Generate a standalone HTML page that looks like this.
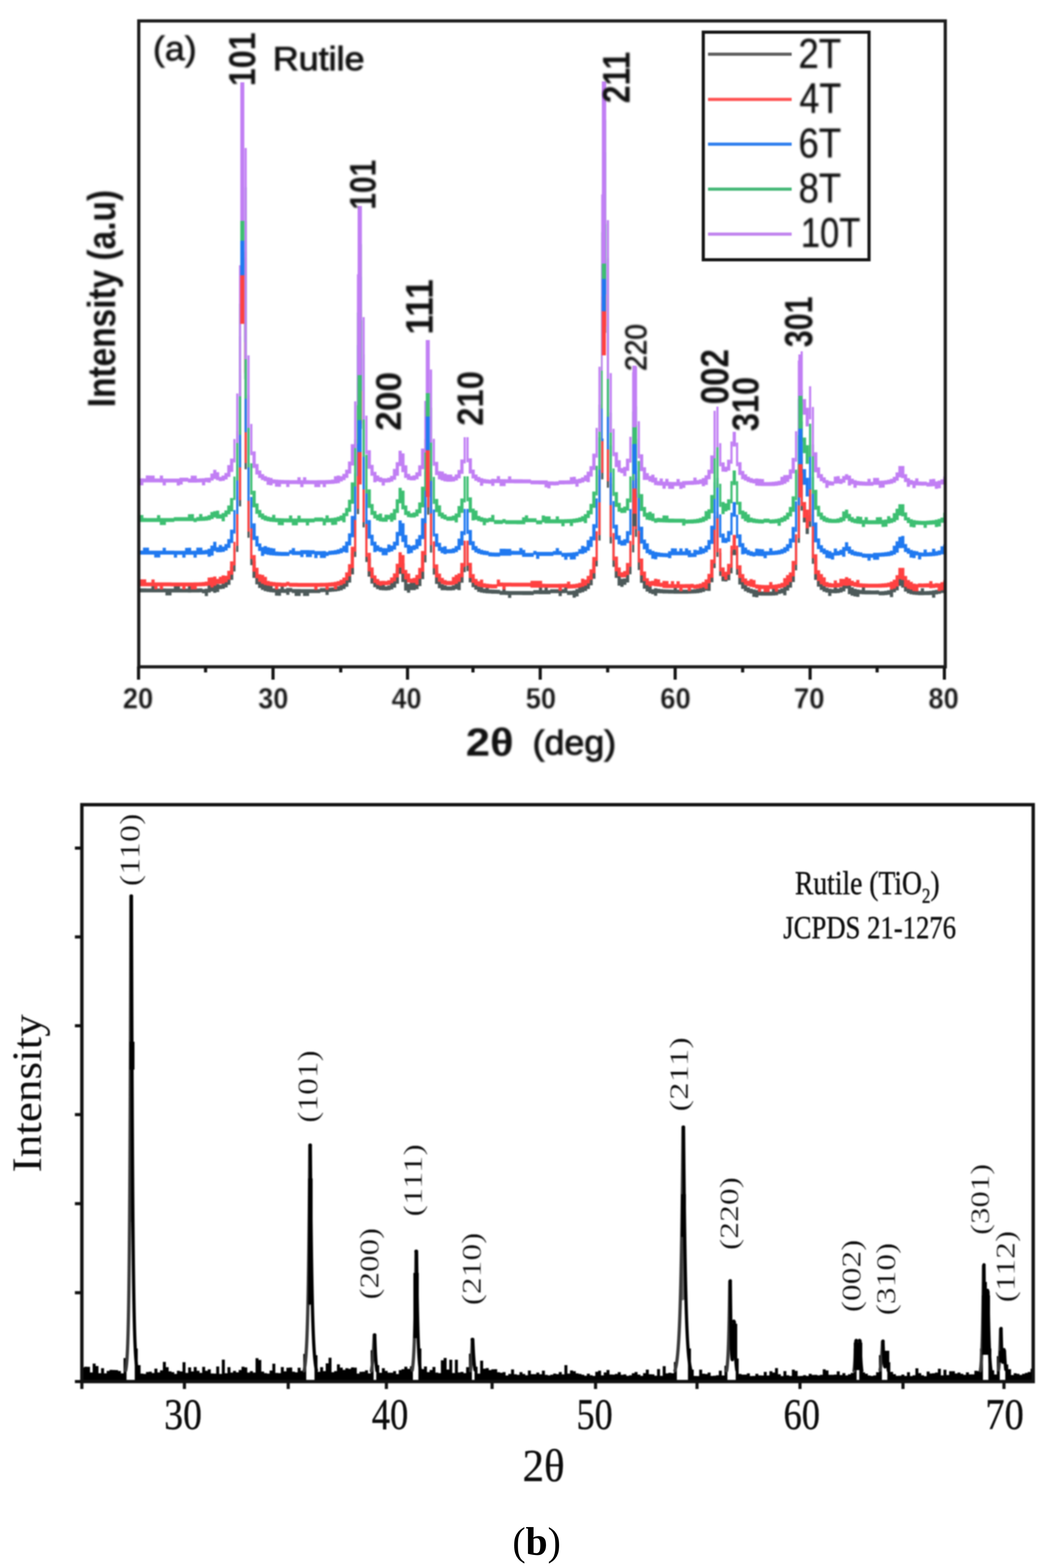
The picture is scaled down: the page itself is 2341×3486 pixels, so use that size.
<!DOCTYPE html>
<html lang="en"><head><meta charset="utf-8"><title>XRD patterns of rutile TiO2</title>
<style>html,body{margin:0;padding:0;background:#fff;width:2341px;height:3486px}svg{display:block}</style></head><body>
<svg width="2341" height="3486" viewBox="0 0 2341 3486" role="img" aria-label="XRD patterns of rutile TiO2">
<defs>
<filter id="ba" x="-2%" y="-2%" width="104%" height="104%" color-interpolation-filters="sRGB"><feGaussianBlur stdDeviation="1.4"/></filter>
<filter id="bb" x="-2%" y="-2%" width="104%" height="104%" color-interpolation-filters="sRGB"><feGaussianBlur stdDeviation="1.4"/></filter>
<filter id="bt" x="-5%" y="-5%" width="110%" height="110%" color-interpolation-filters="sRGB"><feGaussianBlur stdDeviation="2"/></filter>
</defs>
<rect width="2341" height="3486" fill="#fff"/>
<g id="chart-a">
<g filter="url(#ba)">
<path d="M305.4 1308.1h7.2v8.8h-7.2zM311.6 1308.1h7.2v8.8h-7.2zM317.9 1308.1h7.2v8.8h-7.2zM324.1 1308.2h7.2v8.8h-7.2zM330.4 1308.2h7.2v8.8h-7.2zM336.6 1301.7h7.2v15.4h-7.2zM342.8 1308.3h7.2v8.8h-7.2zM349.1 1308.3h7.2v8.8h-7.2zM355.3 1308.3h7.2v8.8h-7.2zM361.6 1308.3h7.2v8.8h-7.2zM367.8 1308.4h7.2v15.4h-7.2zM374.1 1308.4h7.2v15.4h-7.2zM380.3 1308.4h7.2v8.8h-7.2zM386.5 1301.9h7.2v15.4h-7.2zM392.8 1301.9h7.2v15.4h-7.2zM399 1308.5h7.2v8.8h-7.2zM405.3 1308.5h7.2v8.8h-7.2zM411.5 1308.5h7.2v8.8h-7.2zM417.8 1302h7.2v15.4h-7.2zM424 1301.9h7.2v15.4h-7.2zM430.2 1308.4h7.2v8.9h-7.2zM436.5 1308.3h7.2v8.9h-7.2zM442.7 1308.1h7.2v9h-7.2zM449 1309.8h7.2v9.3h-7.2zM455.2 1308.8h7.2v16.4h-7.2zM461.5 1299.8h7.2v17.8h-7.2zM467.7 1292.7h7.2v22.4h-7.2zM473.9 1297.5h7.2v20.6h-7.2zM480.2 1298.5h7.2v17.8h-7.2zM486.4 1300.2h7.2v9.6h-7.2zM492.7 1297.3h7.2v11.7h-7.2zM498.9 1291.5h7.2v14.6h-7.2zM505.2 1280.5h7.2v19.7h-7.2zM511.4 1259.5h7.2v29.8h-7.2zM518.8 1218.3h4.8v52.2h-4.8zM525.1 1116.9h4.8v110.2h-4.8zM531.3 834.1h4.8v291.6h-4.8zM537.6 429.1h4.8v413.8h-4.8zM543.8 573.3h4.8v469.9h-4.8zM550.1 1034.4h4.8v161.2h-4.8zM556.3 1186.8h4.8v69.7h-4.8zM561.3 1247.7h7.2v37.1h-7.2zM567.6 1276h7.2v23.3h-7.2zM573.8 1290.5h7.2v16.7h-7.2zM580.1 1291.8h7.2v19.8h-7.2zM586.3 1296.2h7.2v18h-7.2zM592.6 1298.8h7.2v16.9h-7.2zM598.8 1300.4h7.2v16.3h-7.2zM605 1307.9h7.2v9.4h-7.2zM611.3 1308.5h7.2v15.7h-7.2zM617.5 1308.9h7.2v15.6h-7.2zM623.8 1302.6h7.2v15.5h-7.2zM630 1309.3h7.2v8.9h-7.2zM636.3 1307.2h7.2v15.4h-7.2zM642.5 1307.3h7.2v8.9h-7.2zM648.7 1309.6h7.2v8.8h-7.2zM655 1309.6h7.2v15.4h-7.2zM661.2 1309.6h7.2v15.4h-7.2zM667.5 1309.7h7.2v8.8h-7.2zM673.7 1309.7h7.2v15.4h-7.2zM680 1309.7h7.2v15.4h-7.2zM686.2 1309.8h7.2v8.8h-7.2zM692.4 1309.8h7.2v8.8h-7.2zM698.7 1309.8h7.2v8.8h-7.2zM704.9 1309.7h7.2v8.8h-7.2zM711.2 1307.5h7.2v8.9h-7.2zM717.4 1307.4h7.2v8.9h-7.2zM723.6 1307.2h7.2v15.6h-7.2zM729.9 1306.8h7.2v9.1h-7.2zM736.1 1306.2h7.2v9.4h-7.2zM742.4 1305.3h7.2v9.8h-7.2zM748.6 1303.6h7.2v10.5h-7.2zM754.9 1300.7h7.2v11.7h-7.2zM761.1 1295.6h7.2v13.9h-7.2zM767.3 1286.3h7.2v18.1h-7.2zM773.6 1268.2h7.2v27h-7.2zM779.8 1229.5h7.2v47.5h-7.2zM787.3 1134.3h4.8v104h-4.8zM793.5 851.7h4.8v291.3h-4.8zM799.8 700h4.8v253.6h-4.8zM806 944.8h4.8v227.8h-4.8zM812.2 1163.8h4.8v85.8h-4.8zM817.3 1240.8h7.2v41.2h-7.2zM823.5 1273.2h7.2v24.3h-7.2zM829.8 1288.8h7.2v16.8h-7.2zM836 1290.2h7.2v19.6h-7.2zM842.3 1294.4h7.2v17.5h-7.2zM848.5 1296.5h7.2v16.1h-7.2zM854.7 1303.5h7.2v9.2h-7.2zM861 1301.7h7.2v10.5h-7.2zM867.2 1291.2h7.2v19.4h-7.2zM873.5 1288.8h7.2v17.7h-7.2zM879.7 1267.3h7.2v30.4h-7.2zM886 1241.7h7.2v34.4h-7.2zM892.2 1252.3h7.2v41.7h-7.2zM898.4 1285.2h7.2v27.9h-7.2zM904.7 1297.7h7.2v20.1h-7.2zM910.9 1295.9h7.2v16.2h-7.2zM917.2 1294.3h7.2v17.7h-7.2zM923.4 1294.1h7.2v15.6h-7.2zM929.7 1278.7h7.2v24.2h-7.2zM935.9 1241.3h7.2v46.1h-7.2zM943.3 1135.4h4.8v114.8h-4.8zM949.6 1000.7h4.8v143.5h-4.8zM955.8 1065.7h4.8v162.7h-4.8zM962.1 1217.4h4.8v60.1h-4.8zM967.1 1268.8h7.2v29.4h-7.2zM973.4 1289.4h7.2v18.3h-7.2zM979.6 1298.8h7.2v13.4h-7.2zM985.8 1301.3h7.2v11h-7.2zM992.1 1303.4h7.2v9.4h-7.2zM998.3 1303.4h7.2v9.4h-7.2zM1004.6 1301.3h7.2v11h-7.2zM1010.8 1296.6h7.2v13.5h-7.2zM1017.1 1286.6h7.2v25.4h-7.2zM1023.3 1263.3h7.2v32.1h-7.2zM1030.7 1214h4.8v58.1h-4.8zM1037 1214h4.8v55.7h-4.8zM1042 1260.9h7.2v33.8h-7.2zM1048.3 1285.9h7.2v19.7h-7.2zM1054.5 1290.2h7.2v20.7h-7.2zM1060.8 1304.3h7.2v11.7h-7.2zM1067 1300.6h7.2v17h-7.2zM1073.2 1308.8h7.2v9.8h-7.2zM1079.5 1303.2h7.2v16h-7.2zM1085.7 1310.4h7.2v9.2h-7.2zM1092 1310.8h7.2v9.1h-7.2zM1098.2 1311.1h7.2v9h-7.2zM1104.5 1311.3h7.2v8.9h-7.2zM1110.7 1313.6h7.2v8.9h-7.2zM1116.9 1307.2h7.2v15.4h-7.2zM1123.2 1313.8h7.2v8.9h-7.2zM1129.4 1313.9h7.2v15.4h-7.2zM1135.7 1313.9h7.2v8.8h-7.2zM1141.9 1314h7.2v8.8h-7.2zM1148.2 1314h7.2v8.8h-7.2zM1154.4 1314h7.2v8.8h-7.2zM1160.6 1314.1h7.2v8.8h-7.2zM1166.9 1314.1h7.2v8.8h-7.2zM1173.1 1314.1h7.2v8.8h-7.2zM1179.4 1314.2h7.2v8.8h-7.2zM1185.6 1312h7.2v8.8h-7.2zM1191.8 1312h7.2v8.8h-7.2zM1198.1 1305.5h7.2v15.4h-7.2zM1204.3 1312.1h7.2v8.8h-7.2zM1210.6 1305.6h7.2v15.4h-7.2zM1216.8 1312.1h7.2v8.8h-7.2zM1223.1 1310h7.2v8.8h-7.2zM1229.3 1310h7.2v8.8h-7.2zM1235.5 1310h7.2v8.8h-7.2zM1241.8 1309.9h7.2v15.4h-7.2zM1248 1309.8h7.2v8.9h-7.2zM1254.3 1303.1h7.2v15.5h-7.2zM1260.5 1313.8h7.2v9h-7.2zM1266.8 1313.4h7.2v9.2h-7.2zM1273 1312.8h7.2v16h-7.2zM1279.2 1309.6h7.2v16.4h-7.2zM1285.5 1301.4h7.2v17h-7.2zM1291.7 1298.6h7.2v18.1h-7.2zM1298 1300.5h7.2v13.5h-7.2zM1304.2 1292.5h7.2v16.9h-7.2zM1310.5 1278h7.2v23.3h-7.2zM1316.7 1250.4h7.2v36.4h-7.2zM1324.1 1193.1h4.8v66.1h-4.8zM1330.4 1057h4.8v144.8h-4.8zM1336.6 673.9h4.8v391.9h-4.8zM1342.9 424.2h4.8v315.7h-4.8zM1349.1 731.1h4.8v353.1h-4.8zM1355.4 1075.5h4.8v132.7h-4.8zM1361.6 1199.3h4.8v61h-4.8zM1366.6 1251.6h7.2v33.1h-7.2zM1372.9 1275.8h7.2v26.2h-7.2zM1379.1 1286.7h7.2v18h-7.2zM1385.4 1286.1h7.2v14.1h-7.2zM1391.6 1268.1h7.2v26.9h-7.2zM1399.1 1219.2h4.8v57.6h-4.8zM1405.3 1075.2h4.8v152.8h-4.8zM1411.5 1063.5h4.8v130h-4.8zM1417.8 1184.7h4.8v82.5h-4.8zM1422.8 1258.4h7.2v37.4h-7.2zM1429.1 1287h7.2v21.8h-7.2zM1435.3 1293.4h7.2v21.9h-7.2zM1441.6 1300h7.2v19h-7.2zM1447.8 1310.1h7.2v10.9h-7.2zM1454 1307.8h7.2v16.6h-7.2zM1460.3 1309.1h7.2v9.6h-7.2zM1466.5 1309.8h7.2v9.3h-7.2zM1472.8 1310.3h7.2v9.1h-7.2zM1479 1310.6h7.2v9h-7.2zM1485.3 1310.8h7.2v8.9h-7.2zM1491.5 1310.9h7.2v8.9h-7.2zM1497.7 1304.5h7.2v15.4h-7.2zM1504 1311.1h7.2v8.8h-7.2zM1510.2 1311.1h7.2v8.8h-7.2zM1516.5 1311.1h7.2v8.8h-7.2zM1522.7 1311h7.2v8.9h-7.2zM1529 1310.8h7.2v9h-7.2zM1535.2 1310.5h7.2v9.1h-7.2zM1541.4 1309.9h7.2v9.3h-7.2zM1547.7 1309h7.2v9.7h-7.2zM1553.9 1307.3h7.2v10.4h-7.2zM1560.2 1304.3h7.2v11.8h-7.2zM1566.4 1298.5h7.2v14.7h-7.2zM1572.7 1285.8h7.2v28h-7.2zM1578.9 1254.1h7.2v40.5h-7.2zM1586.3 1157.1h4.8v105.8h-4.8zM1592.6 1147.9h4.8v90h-4.8zM1598.8 1229.1h4.8v51.4h-4.8zM1603.9 1271.7h7.2v20.5h-7.2zM1610.1 1281.3h7.2v11.4h-7.2zM1616.4 1265.9h7.2v24.2h-7.2zM1623.8 1225.3h4.8v49.4h-4.8zM1628.8 1201.7h7.2v32.6h-7.2zM1636.3 1225.5h4.8v52.5h-4.8zM1641.3 1271.3h7.2v28.3h-7.2zM1647.6 1284.3h7.2v25h-7.2zM1653.8 1300.5h7.2v14h-7.2zM1660 1305.7h7.2v11.8h-7.2zM1666.3 1308.8h7.2v10.6h-7.2zM1672.5 1310.6h7.2v16.5h-7.2zM1678.8 1311.8h7.2v16.1h-7.2zM1685 1314.7h7.2v9.3h-7.2zM1691.3 1315.1h7.2v9.1h-7.2zM1697.5 1315.4h7.2v8.9h-7.2zM1703.7 1308.9h7.2v15.4h-7.2zM1710 1315.2h7.2v9h-7.2zM1716.2 1308.2h7.2v15.8h-7.2zM1722.5 1314h7.2v9.6h-7.2zM1728.7 1310.5h7.2v10.1h-7.2zM1735 1308.2h7.2v11h-7.2zM1741.2 1304.4h7.2v19.2h-7.2zM1747.4 1297.6h7.2v15.5h-7.2zM1753.7 1285.1h7.2v21.4h-7.2zM1759.9 1259.4h7.2v34.5h-7.2zM1767.4 1200.2h4.8v67.9h-4.8zM1773.6 1040.7h4.8v166.1h-4.8zM1779.9 1020.4h4.8v114.8h-4.8zM1784.9 1126.5h7.2v34.8h-7.2zM1791.1 1145.7h7.2v41.5h-7.2zM1798.6 1098h4.8v73.6h-4.8zM1804.8 1143.9h4.8v109.7h-4.8zM1809.9 1244.9h7.2v44.3h-7.2zM1816.1 1280.4h7.2v23.9h-7.2zM1822.4 1295.4h7.2v16.1h-7.2zM1828.6 1302.8h7.2v12.7h-7.2zM1834.8 1306.6h7.2v10.9h-7.2zM1841.1 1308.7h7.2v16.4h-7.2zM1847.3 1309.7h7.2v9.1h-7.2zM1853.6 1303.2h7.2v15.7h-7.2zM1859.8 1308.6h7.2v10h-7.2zM1866.1 1305.8h7.2v11.5h-7.2zM1872.3 1293.1h7.2v21.6h-7.2zM1878.5 1295.7h7.2v12.7h-7.2zM1884.8 1298.7h7.2v22.4h-7.2zM1891 1305.7h7.2v18.6h-7.2zM1897.3 1309h7.2v17h-7.2zM1903.5 1310.6h7.2v16.3h-7.2zM1909.8 1311.5h7.2v9.3h-7.2zM1916 1305.5h7.2v15.7h-7.2zM1922.2 1312.4h7.2v9h-7.2zM1928.5 1312.6h7.2v8.9h-7.2zM1934.7 1312.7h7.2v8.8h-7.2zM1941 1312.7h7.2v8.8h-7.2zM1947.2 1312.6h7.2v8.9h-7.2zM1953.5 1314.6h7.2v9h-7.2zM1959.7 1314.2h7.2v9.2h-7.2zM1965.9 1313.5h7.2v9.5h-7.2zM1972.2 1312.3h7.2v10h-7.2zM1978.4 1310.1h7.2v17.5h-7.2zM1984.7 1303.6h7.2v13.2h-7.2zM1990.9 1293.8h7.2v18.6h-7.2zM1997.2 1277.3h7.2v25.2h-7.2zM2003.4 1279.5h7.2v27h-7.2zM2009.6 1297.7h7.2v17.6h-7.2zM2015.9 1306.5h7.2v12.8h-7.2zM2022.1 1303.9h7.2v17.3h-7.2zM2028.4 1312.5h7.2v9.8h-7.2zM2034.6 1313.5h7.2v9.3h-7.2zM2040.9 1314.1h7.2v9.1h-7.2zM2047.1 1307.8h7.2v15.4h-7.2zM2053.3 1314.2h7.2v8.9h-7.2zM2059.6 1313.9h7.2v9.1h-7.2zM2065.8 1313.4h7.2v9.3h-7.2zM2072.1 1312.6h7.2v16.1h-7.2zM2078.3 1311.5h7.2v9.9h-7.2zM2084.6 1309.8h7.2v10.5h-7.2zM2090.8 1300.6h7.2v18h-7.2zM2097 1300.7h7.2v13h-7.2z" fill="#4d5a5a"/>
<path d="M305.4 1294.6h7.2v8.8h-7.2zM311.6 1288.1h7.2v15.4h-7.2zM317.9 1288.1h7.2v15.4h-7.2zM324.1 1294.7h7.2v8.8h-7.2zM330.4 1294.7h7.2v8.8h-7.2zM336.6 1288.2h7.2v15.4h-7.2zM342.8 1294.7h7.2v15.4h-7.2zM349.1 1294.8h7.2v8.8h-7.2zM355.3 1294.8h7.2v15.4h-7.2zM361.6 1294.8h7.2v8.8h-7.2zM367.8 1294.8h7.2v8.8h-7.2zM374.1 1294.8h7.2v8.8h-7.2zM380.3 1294.9h7.2v8.8h-7.2zM386.5 1294.9h7.2v8.8h-7.2zM392.8 1294.9h7.2v8.8h-7.2zM399 1294.9h7.2v8.8h-7.2zM405.3 1294.9h7.2v15.4h-7.2zM411.5 1294.9h7.2v8.8h-7.2zM417.8 1294.9h7.2v8.8h-7.2zM424 1294.9h7.2v15.4h-7.2zM430.2 1294.8h7.2v15.4h-7.2zM436.5 1294.7h7.2v8.9h-7.2zM442.7 1294.4h7.2v9.1h-7.2zM449 1294h7.2v9.3h-7.2zM455.2 1292.9h7.2v9.8h-7.2zM461.5 1283.9h7.2v17.8h-7.2zM467.7 1283.5h7.2v22.4h-7.2zM473.9 1281.7h7.2v20.6h-7.2zM480.2 1287h7.2v11.3h-7.2zM486.4 1282.2h7.2v16.1h-7.2zM492.7 1279.3h7.2v18.3h-7.2zM498.9 1280h7.2v14.6h-7.2zM505.2 1269.1h7.2v19.7h-7.2zM511.4 1248h7.2v29.8h-7.2zM518.8 1204.7h4.8v52.2h-4.8zM525.1 1103.2h4.8v110.2h-4.8zM531.3 820.4h4.8v291.6h-4.8zM537.6 415.4h4.8v413.8h-4.8zM543.8 559.6h4.8v469.9h-4.8zM550.1 1020.7h4.8v161.2h-4.8zM556.3 1173.1h4.8v69.7h-4.8zM561.3 1234h7.2v37.1h-7.2zM567.6 1262.3h7.2v23.3h-7.2zM573.8 1276.7h7.2v16.7h-7.2zM580.1 1278h7.2v19.8h-7.2zM586.3 1282.5h7.2v18h-7.2zM592.6 1291.6h7.2v10.4h-7.2zM598.8 1293.2h7.2v9.8h-7.2zM605 1294.1h7.2v9.4h-7.2zM611.3 1294.7h7.2v15.7h-7.2zM617.5 1295.1h7.2v9h-7.2zM623.8 1295.4h7.2v9h-7.2zM630 1295.5h7.2v8.9h-7.2zM636.3 1293.5h7.2v8.9h-7.2zM642.5 1295.7h7.2v8.9h-7.2zM648.7 1295.8h7.2v8.8h-7.2zM655 1295.8h7.2v8.8h-7.2zM661.2 1295.9h7.2v8.8h-7.2zM667.5 1295.9h7.2v8.8h-7.2zM673.7 1295.9h7.2v8.8h-7.2zM680 1295.9h7.2v8.8h-7.2zM686.2 1295.9h7.2v8.8h-7.2zM692.4 1296h7.2v8.8h-7.2zM698.7 1295.9h7.2v15.4h-7.2zM704.9 1295.9h7.2v8.8h-7.2zM711.2 1295.8h7.2v8.9h-7.2zM717.4 1295.7h7.2v8.9h-7.2zM723.6 1295.5h7.2v15.6h-7.2zM729.9 1295.1h7.2v9.2h-7.2zM736.1 1294.6h7.2v9.4h-7.2zM742.4 1293.6h7.2v16.3h-7.2zM748.6 1291.9h7.2v10.5h-7.2zM754.9 1289h7.2v11.7h-7.2zM761.1 1283.9h7.2v13.9h-7.2zM767.3 1272.4h7.2v18.1h-7.2zM773.6 1254.3h7.2v27h-7.2zM779.8 1215.6h7.2v47.5h-7.2zM787.3 1122.5h4.8v104h-4.8zM793.5 840h4.8v291.3h-4.8zM799.8 688.3h4.8v253.6h-4.8zM806 933.1h4.8v227.8h-4.8zM812.2 1152.1h4.8v85.8h-4.8zM817.3 1229.1h7.2v41.2h-7.2zM823.5 1261.5h7.2v24.3h-7.2zM829.8 1279.2h7.2v16.8h-7.2zM836 1287.2h7.2v13h-7.2zM842.3 1291.4h7.2v10.9h-7.2zM848.5 1291.3h7.2v9.5h-7.2zM854.7 1291.7h7.2v9.2h-7.2zM861 1290h7.2v10.5h-7.2zM867.2 1283.8h7.2v12.8h-7.2zM873.5 1274.8h7.2v17.7h-7.2zM879.7 1253.3h7.2v30.4h-7.2zM886 1227.7h7.2v34.4h-7.2zM892.2 1233.9h7.2v41.7h-7.2zM898.4 1266.9h7.2v21.3h-7.2zM904.7 1275h7.2v20.1h-7.2zM910.9 1286.3h7.2v9.7h-7.2zM917.2 1284.7h7.2v11.2h-7.2zM923.4 1277.9h7.2v22.1h-7.2zM929.7 1262.5h7.2v24.2h-7.2zM935.9 1225.1h7.2v46.2h-7.2zM943.3 1119.1h4.8v114.8h-4.8zM949.6 984.4h4.8v143.5h-4.8zM955.8 1049.5h4.8v162.7h-4.8zM962.1 1203.4h4.8v60.1h-4.8zM967.1 1254.7h7.2v29.4h-7.2zM973.4 1275.3h7.2v18.3h-7.2zM979.6 1284.8h7.2v13.4h-7.2zM985.8 1289.4h7.2v10.9h-7.2zM992.1 1291.6h7.2v9.4h-7.2zM998.3 1291.5h7.2v9.4h-7.2zM1004.6 1282.8h7.2v17.5h-7.2zM1010.8 1278.1h7.2v20h-7.2zM1017.1 1274.7h7.2v18.8h-7.2zM1023.3 1251.4h7.2v32.1h-7.2zM1030.7 1202.1h4.8v58.1h-4.8zM1037 1202.1h4.8v55.7h-4.8zM1042 1251.2h7.2v33.8h-7.2zM1048.3 1276.2h7.2v19.6h-7.2zM1054.5 1287h7.2v14.1h-7.2zM1060.8 1292.3h7.2v11.7h-7.2zM1067 1288.6h7.2v17h-7.2zM1073.2 1296.8h7.2v9.8h-7.2zM1079.5 1297.8h7.2v9.4h-7.2zM1085.7 1298.5h7.2v9.2h-7.2zM1092 1298.9h7.2v9.1h-7.2zM1098.2 1299.1h7.2v9h-7.2zM1104.5 1288.4h7.2v15.5h-7.2zM1110.7 1295.1h7.2v8.9h-7.2zM1116.9 1295.2h7.2v15.4h-7.2zM1123.2 1295.3h7.2v8.9h-7.2zM1129.4 1295.3h7.2v8.8h-7.2zM1135.7 1295.4h7.2v8.8h-7.2zM1141.9 1295.4h7.2v8.8h-7.2zM1148.2 1295.4h7.2v8.8h-7.2zM1154.4 1295.5h7.2v8.8h-7.2zM1160.6 1295.5h7.2v8.8h-7.2zM1166.9 1295.5h7.2v8.8h-7.2zM1173.1 1295.5h7.2v8.8h-7.2zM1179.4 1291.2h7.2v15.4h-7.2zM1185.6 1291.2h7.2v15.4h-7.2zM1191.8 1291.2h7.2v15.4h-7.2zM1198.1 1291.3h7.2v15.4h-7.2zM1204.3 1297.8h7.2v8.8h-7.2zM1210.6 1297.9h7.2v8.8h-7.2zM1216.8 1297.9h7.2v8.8h-7.2zM1223.1 1297.9h7.2v8.8h-7.2zM1229.3 1297.9h7.2v8.8h-7.2zM1235.5 1297.9h7.2v8.8h-7.2zM1241.8 1297.8h7.2v15.4h-7.2zM1248 1297.7h7.2v8.9h-7.2zM1254.3 1297.6h7.2v8.9h-7.2zM1260.5 1293h7.2v15.6h-7.2zM1266.8 1299.1h7.2v9.2h-7.2zM1273 1298.5h7.2v9.4h-7.2zM1279.2 1297.5h7.2v9.8h-7.2zM1285.5 1295.8h7.2v10.5h-7.2zM1291.7 1286.5h7.2v18.1h-7.2zM1298 1288.4h7.2v13.5h-7.2zM1304.2 1280.3h7.2v16.9h-7.2zM1310.5 1265.8h7.2v23.3h-7.2zM1316.7 1238.2h7.2v36.4h-7.2zM1324.1 1180.9h4.8v66.1h-4.8zM1330.4 1044.9h4.8v144.8h-4.8zM1336.6 659.6h4.8v391.9h-4.8zM1342.9 409.8h4.8v315.7h-4.8zM1349.1 716.8h4.8v353.1h-4.8zM1355.4 1061.1h4.8v132.6h-4.8zM1361.6 1184.9h4.8v61h-4.8zM1366.6 1237.2h7.2v33.1h-7.2zM1372.9 1261.4h7.2v19.7h-7.2zM1379.1 1272.3h7.2v11.5h-7.2zM1385.4 1269.5h7.2v14.1h-7.2zM1391.6 1251.5h7.2v26.9h-7.2zM1399.1 1202.6h4.8v57.7h-4.8zM1405.3 1058.6h4.8v152.8h-4.8zM1411.5 1046.9h4.8v130h-4.8zM1417.8 1168.1h4.8v82.4h-4.8zM1422.8 1241.8h7.2v37.4h-7.2zM1429.1 1270.4h7.2v21.7h-7.2zM1435.3 1285.5h7.2v15.4h-7.2zM1441.6 1292.1h7.2v12.4h-7.2zM1447.8 1291.3h7.2v10.9h-7.2zM1454 1286.8h7.2v16.6h-7.2zM1460.3 1288h7.2v16.1h-7.2zM1466.5 1295.4h7.2v9.3h-7.2zM1472.8 1291.5h7.2v15.7h-7.2zM1479 1291.8h7.2v15.6h-7.2zM1485.3 1298.5h7.2v8.9h-7.2zM1491.5 1292.1h7.2v15.4h-7.2zM1497.7 1298.7h7.2v8.8h-7.2zM1504 1292.2h7.2v15.4h-7.2zM1510.2 1298.8h7.2v15.4h-7.2zM1516.5 1298.7h7.2v8.9h-7.2zM1522.7 1298.6h7.2v8.9h-7.2zM1529 1298.4h7.2v15.5h-7.2zM1535.2 1298.1h7.2v9.1h-7.2zM1541.4 1299.7h7.2v9.3h-7.2zM1547.7 1298.8h7.2v9.7h-7.2zM1553.9 1297.2h7.2v10.5h-7.2zM1560.2 1294.1h7.2v11.8h-7.2zM1566.4 1288.3h7.2v21.2h-7.2zM1572.7 1275.7h7.2v21.4h-7.2zM1578.9 1243.9h7.2v40.5h-7.2zM1586.3 1146.9h4.8v105.8h-4.8zM1592.6 1137.7h4.8v90h-4.8zM1598.8 1218.9h4.8v51.4h-4.8zM1603.9 1261.4h7.2v20.5h-7.2zM1610.1 1271.1h7.2v18h-7.2zM1616.4 1253.5h7.2v24.2h-7.2zM1623.8 1212.9h4.8v49.4h-4.8zM1628.8 1189.3h7.2v32.6h-7.2zM1636.3 1213.1h4.8v52.5h-4.8zM1641.3 1256.7h7.2v28.3h-7.2zM1647.6 1276.2h7.2v18.4h-7.2zM1653.8 1285.9h7.2v14h-7.2zM1660 1291.1h7.2v11.8h-7.2zM1666.3 1287.6h7.2v17.2h-7.2zM1672.5 1289.4h7.2v16.5h-7.2zM1678.8 1299.3h7.2v9.5h-7.2zM1685 1300h7.2v15.8h-7.2zM1691.3 1300.5h7.2v9.1h-7.2zM1697.5 1300.7h7.2v15.5h-7.2zM1703.7 1300.8h7.2v15.4h-7.2zM1710 1294h7.2v15.6h-7.2zM1716.2 1300.1h7.2v9.3h-7.2zM1722.5 1299.3h7.2v16.2h-7.2zM1728.7 1297.9h7.2v10.1h-7.2zM1735 1295.7h7.2v11.1h-7.2zM1741.2 1285.3h7.2v19.2h-7.2zM1747.4 1278.6h7.2v22.1h-7.2zM1753.7 1272.5h7.2v21.4h-7.2zM1759.9 1246.9h7.2v34.5h-7.2zM1767.4 1187.7h4.8v68h-4.8zM1773.6 1030.4h4.8v166.1h-4.8zM1779.9 1010.1h4.8v114.8h-4.8zM1784.9 1116.1h7.2v34.8h-7.2zM1791.1 1133.1h7.2v41.5h-7.2zM1798.6 1085.5h4.8v73.7h-4.8zM1804.8 1131.4h4.8v109.7h-4.8zM1809.9 1232.3h7.2v44.3h-7.2zM1816.1 1267.8h7.2v23.9h-7.2zM1822.4 1276.3h7.2v22.7h-7.2zM1828.6 1283.6h7.2v19.2h-7.2zM1834.8 1294h7.2v10.9h-7.2zM1841.1 1296.1h7.2v9.8h-7.2zM1847.3 1297.1h7.2v9.1h-7.2zM1853.6 1290.6h7.2v15.7h-7.2zM1859.8 1296h7.2v10h-7.2zM1866.1 1286.7h7.2v18.1h-7.2zM1872.3 1287h7.2v15h-7.2zM1878.5 1283.1h7.2v19.3h-7.2zM1884.8 1286h7.2v15.8h-7.2zM1891 1290.9h7.2v12h-7.2zM1897.3 1294.1h7.2v10.4h-7.2zM1903.5 1289.2h7.2v16.3h-7.2zM1909.8 1296.7h7.2v9.3h-7.2zM1916 1297.2h7.2v9.1h-7.2zM1922.2 1297.5h7.2v9h-7.2zM1928.5 1297.7h7.2v8.9h-7.2zM1934.7 1297.8h7.2v8.8h-7.2zM1941 1297.8h7.2v8.8h-7.2zM1947.2 1297.7h7.2v8.9h-7.2zM1953.5 1297.5h7.2v9h-7.2zM1959.7 1297.1h7.2v9.2h-7.2zM1965.9 1296.4h7.2v9.5h-7.2zM1972.2 1295.2h7.2v10h-7.2zM1978.4 1293.1h7.2v17.5h-7.2zM1984.7 1288.7h7.2v19.8h-7.2zM1990.9 1278.8h7.2v25.2h-7.2zM1997.2 1262.4h7.2v25.2h-7.2zM2003.4 1262.4h7.2v27h-7.2zM2009.6 1280.6h7.2v24.1h-7.2zM2015.9 1289.4h7.2v19.3h-7.2zM2022.1 1293.4h7.2v17.3h-7.2zM2028.4 1297.5h7.2v16.4h-7.2zM2034.6 1298.6h7.2v15.9h-7.2zM2040.9 1296.9h7.2v9h-7.2zM2047.1 1297.2h7.2v8.8h-7.2zM2053.3 1297.1h7.2v8.9h-7.2zM2059.6 1296.8h7.2v9.1h-7.2zM2065.8 1291.9h7.2v15.9h-7.2zM2072.1 1297.7h7.2v9.6h-7.2zM2078.3 1296.5h7.2v10h-7.2zM2084.6 1297h7.2v17.1h-7.2zM2090.8 1294.3h7.2v18h-7.2zM2097 1290.1h7.2v13h-7.2z" fill="#ff4141"/>
<path d="M305.4 1224.1h7.2v8.8h-7.2zM311.6 1224.1h7.2v8.8h-7.2zM317.9 1217.6h7.2v15.4h-7.2zM324.1 1217.6h7.2v15.4h-7.2zM330.4 1224.2h7.2v8.8h-7.2zM336.6 1224.2h7.2v8.8h-7.2zM342.8 1224.2h7.2v15.4h-7.2zM349.1 1224.2h7.2v15.4h-7.2zM355.3 1224.3h7.2v8.8h-7.2zM361.6 1217.7h7.2v15.4h-7.2zM367.8 1224.3h7.2v8.8h-7.2zM374.1 1224.3h7.2v8.8h-7.2zM380.3 1224.3h7.2v8.8h-7.2zM386.5 1224.4h7.2v15.4h-7.2zM392.8 1224.4h7.2v8.8h-7.2zM399 1224.4h7.2v8.8h-7.2zM405.3 1224.4h7.2v15.4h-7.2zM411.5 1217.9h7.2v15.4h-7.2zM417.8 1217.8h7.2v15.4h-7.2zM424 1224.4h7.2v8.8h-7.2zM430.2 1224.3h7.2v15.4h-7.2zM436.5 1217.6h7.2v15.5h-7.2zM442.7 1217.4h7.2v15.6h-7.2zM449 1223.4h7.2v9.3h-7.2zM455.2 1222.4h7.2v9.8h-7.2zM461.5 1220h7.2v17.8h-7.2zM467.7 1212.9h7.2v22.4h-7.2zM473.9 1204.6h7.2v20.6h-7.2zM480.2 1216.4h7.2v11.3h-7.2zM486.4 1211.6h7.2v16.1h-7.2zM492.7 1215.3h7.2v11.7h-7.2zM498.9 1209.4h7.2v14.6h-7.2zM505.2 1198.5h7.2v19.7h-7.2zM511.4 1177.5h7.2v29.8h-7.2zM518.8 1134.1h4.8v52.2h-4.8zM525.1 1032.7h4.8v110.2h-4.8zM531.3 747.6h4.8v291.6h-4.8zM537.6 347h4.8v413.8h-4.8zM543.8 491.2h4.8v469.9h-4.8zM550.1 952.3h4.8v161.2h-4.8zM556.3 1104.7h4.8v69.7h-4.8zM561.3 1163.4h7.2v37.1h-7.2zM567.6 1191.7h7.2v23.3h-7.2zM573.8 1208.3h7.2v16.7h-7.2zM580.1 1216.2h7.2v19.8h-7.2zM586.3 1214.1h7.2v18h-7.2zM592.6 1216.7h7.2v16.9h-7.2zM598.8 1218.2h7.2v16.3h-7.2zM605 1219.2h7.2v15.9h-7.2zM611.3 1226.3h7.2v9.2h-7.2zM617.5 1226.7h7.2v9h-7.2zM623.8 1227h7.2v9h-7.2zM630 1227.1h7.2v8.9h-7.2zM636.3 1227.2h7.2v8.9h-7.2zM642.5 1222.9h7.2v8.9h-7.2zM648.7 1218.6h7.2v15.4h-7.2zM655 1225.2h7.2v8.8h-7.2zM661.2 1225.3h7.2v8.8h-7.2zM667.5 1223.1h7.2v15.4h-7.2zM673.7 1223.1h7.2v8.8h-7.2zM680 1223.1h7.2v15.4h-7.2zM686.2 1223.2h7.2v15.4h-7.2zM692.4 1223.2h7.2v8.8h-7.2zM698.7 1225.3h7.2v15.4h-7.2zM704.9 1225.3h7.2v8.8h-7.2zM711.2 1225.2h7.2v15.4h-7.2zM717.4 1225.1h7.2v15.5h-7.2zM723.6 1227.1h7.2v9h-7.2zM729.9 1224.5h7.2v9.2h-7.2zM736.1 1223.9h7.2v9.4h-7.2zM742.4 1222.9h7.2v9.8h-7.2zM748.6 1221.3h7.2v10.5h-7.2zM754.9 1218.4h7.2v11.7h-7.2zM761.1 1213.3h7.2v13.9h-7.2zM767.3 1204h7.2v24.7h-7.2zM773.6 1185.8h7.2v27h-7.2zM779.8 1147.1h7.2v47.5h-7.2zM787.3 1051.9h4.8v104h-4.8zM793.5 767.2h4.8v291.4h-4.8zM799.8 615.5h4.8v253.6h-4.8zM806 860.3h4.8v227.8h-4.8zM812.2 1079.2h4.8v85.8h-4.8zM817.3 1156.3h7.2v41.2h-7.2zM823.5 1188.7h7.2v24.3h-7.2zM829.8 1204.2h7.2v23.3h-7.2zM836 1212.2h7.2v13h-7.2zM842.3 1216.4h7.2v10.9h-7.2zM848.5 1218.5h7.2v16.1h-7.2zM854.7 1218.8h7.2v15.8h-7.2zM861 1210.6h7.2v17.1h-7.2zM867.2 1213.1h7.2v12.8h-7.2zM873.5 1204.2h7.2v17.7h-7.2zM879.7 1182.6h7.2v30.4h-7.2zM886 1157h7.2v34.4h-7.2zM892.2 1163.3h7.2v41.7h-7.2zM898.4 1189.6h7.2v27.9h-7.2zM904.7 1210.9h7.2v20.1h-7.2zM910.9 1213.4h7.2v16.2h-7.2zM917.2 1211.8h7.2v11.2h-7.2zM923.4 1198.5h7.2v22.1h-7.2zM929.7 1189.6h7.2v24.2h-7.2zM935.9 1152.2h7.2v46.2h-7.2zM943.3 1048.5h4.8v114.8h-4.8zM949.6 913.8h4.8v143.5h-4.8zM955.8 978.8h4.8v162.7h-4.8zM962.1 1132.7h4.8v60.1h-4.8zM967.1 1186.2h7.2v29.4h-7.2zM973.4 1206.8h7.2v18.3h-7.2zM979.6 1216.3h7.2v13.4h-7.2zM985.8 1214.4h7.2v17.5h-7.2zM992.1 1220.9h7.2v9.4h-7.2zM998.3 1220.8h7.2v9.4h-7.2zM1004.6 1218.7h7.2v11h-7.2zM1010.8 1214h7.2v13.5h-7.2zM1017.1 1197.4h7.2v25.4h-7.2zM1023.3 1180.7h7.2v32.1h-7.2zM1030.7 1131.4h4.8v58.1h-4.8zM1037 1131.4h4.8v55.7h-4.8zM1042 1178.3h7.2v33.8h-7.2zM1048.3 1203.3h7.2v19.6h-7.2zM1054.5 1214.1h7.2v14.1h-7.2zM1060.8 1219.4h7.2v11.7h-7.2zM1067 1222.3h7.2v10.4h-7.2zM1073.2 1223.9h7.2v9.8h-7.2zM1079.5 1224.9h7.2v9.4h-7.2zM1085.7 1227.7h7.2v9.2h-7.2zM1092 1228.2h7.2v9.1h-7.2zM1098.2 1228.4h7.2v9h-7.2zM1104.5 1228.6h7.2v8.9h-7.2zM1110.7 1220h7.2v15.4h-7.2zM1116.9 1220.1h7.2v15.4h-7.2zM1123.2 1220.2h7.2v15.4h-7.2zM1129.4 1220.2h7.2v15.4h-7.2zM1135.7 1224.6h7.2v8.8h-7.2zM1141.9 1224.7h7.2v8.8h-7.2zM1148.2 1224.7h7.2v8.8h-7.2zM1154.4 1218.2h7.2v15.4h-7.2zM1160.6 1222.6h7.2v15.4h-7.2zM1166.9 1229.2h7.2v8.8h-7.2zM1173.1 1229.2h7.2v8.8h-7.2zM1179.4 1229.2h7.2v8.8h-7.2zM1185.6 1224.8h7.2v8.8h-7.2zM1191.8 1227.1h7.2v15.4h-7.2zM1198.1 1227.1h7.2v8.8h-7.2zM1204.3 1227.1h7.2v8.8h-7.2zM1210.6 1227.1h7.2v8.8h-7.2zM1216.8 1227.1h7.2v8.8h-7.2zM1223.1 1227.1h7.2v8.8h-7.2zM1229.3 1224.9h7.2v8.8h-7.2zM1235.5 1218.4h7.2v15.4h-7.2zM1241.8 1224.9h7.2v8.9h-7.2zM1248 1229.1h7.2v8.9h-7.2zM1254.3 1229h7.2v15.5h-7.2zM1260.5 1228.7h7.2v9h-7.2zM1266.8 1228.4h7.2v15.7h-7.2zM1273 1227.7h7.2v16h-7.2zM1279.2 1226.7h7.2v9.8h-7.2zM1285.5 1220.7h7.2v10.5h-7.2zM1291.7 1213.5h7.2v18.1h-7.2zM1298 1215.4h7.2v13.5h-7.2zM1304.2 1200.8h7.2v23.4h-7.2zM1310.5 1192.8h7.2v23.3h-7.2zM1316.7 1165.2h7.2v36.4h-7.2zM1324.1 1107.9h4.8v66.1h-4.8zM1330.4 971.9h4.8v144.8h-4.8zM1336.6 588.8h4.8v391.9h-4.8zM1342.9 339h4.8v315.7h-4.8zM1349.1 646h4.8v353.1h-4.8zM1355.4 990.3h4.8v132.6h-4.8zM1361.6 1114.1h4.8v61h-4.8zM1366.6 1166.4h7.2v33.1h-7.2zM1372.9 1190.6h7.2v19.7h-7.2zM1379.1 1201.5h7.2v11.4h-7.2zM1385.4 1198.7h7.2v14.1h-7.2zM1391.6 1180.7h7.2v26.9h-7.2zM1399.1 1131.8h4.8v57.7h-4.8zM1405.3 987.8h4.8v152.8h-4.8zM1411.5 976.1h4.8v130h-4.8zM1417.8 1097.3h4.8v82.4h-4.8zM1422.8 1171h7.2v37.4h-7.2zM1429.1 1199.5h7.2v21.7h-7.2zM1435.3 1208.1h7.2v21.9h-7.2zM1441.6 1221.2h7.2v12.4h-7.2zM1447.8 1224.8h7.2v17.4h-7.2zM1454 1226.9h7.2v16.6h-7.2zM1460.3 1228.1h7.2v9.6h-7.2zM1466.5 1228.9h7.2v9.3h-7.2zM1472.8 1229.4h7.2v9.1h-7.2zM1479 1229.7h7.2v9h-7.2zM1485.3 1225.5h7.2v15.5h-7.2zM1491.5 1219.1h7.2v15.4h-7.2zM1497.7 1219.2h7.2v15.4h-7.2zM1504 1225.8h7.2v8.8h-7.2zM1510.2 1219.2h7.2v15.4h-7.2zM1516.5 1225.7h7.2v8.9h-7.2zM1522.7 1219h7.2v15.5h-7.2zM1529 1223.2h7.2v15.5h-7.2zM1535.2 1229.4h7.2v9.1h-7.2zM1541.4 1222.3h7.2v15.9h-7.2zM1547.7 1223.6h7.2v9.7h-7.2zM1553.9 1215.4h7.2v17h-7.2zM1560.2 1218.9h7.2v11.8h-7.2zM1566.4 1213h7.2v14.7h-7.2zM1572.7 1200.4h7.2v21.4h-7.2zM1578.9 1168.7h7.2v40.5h-7.2zM1586.3 1071.7h4.8v105.8h-4.8zM1592.6 1062.4h4.8v90h-4.8zM1598.8 1143.6h4.8v51.4h-4.8zM1603.9 1186.2h7.2v20.5h-7.2zM1610.1 1195.8h7.2v11.5h-7.2zM1616.4 1180.4h7.2v24.2h-7.2zM1623.8 1139.8h4.8v49.4h-4.8zM1628.8 1116.2h7.2v32.6h-7.2zM1636.3 1144.4h4.8v52.4h-4.8zM1641.3 1188h7.2v28.3h-7.2zM1647.6 1207.6h7.2v25h-7.2zM1653.8 1217.2h7.2v14h-7.2zM1660 1222.4h7.2v11.8h-7.2zM1666.3 1225.4h7.2v10.6h-7.2zM1672.5 1227.3h7.2v10h-7.2zM1678.8 1219.7h7.2v16.1h-7.2zM1685 1220.4h7.2v15.8h-7.2zM1691.3 1220.9h7.2v15.6h-7.2zM1697.5 1225.5h7.2v15.5h-7.2zM1703.7 1225.5h7.2v8.9h-7.2zM1710 1218.7h7.2v15.6h-7.2zM1716.2 1224.8h7.2v9.3h-7.2zM1722.5 1224h7.2v9.6h-7.2zM1728.7 1222.7h7.2v10.1h-7.2zM1735 1220.4h7.2v11.1h-7.2zM1741.2 1216.6h7.2v12.6h-7.2zM1747.4 1209.8h7.2v15.6h-7.2zM1753.7 1197.2h7.2v21.4h-7.2zM1759.9 1171.6h7.2v34.5h-7.2zM1767.4 1114.6h4.8v68h-4.8zM1773.6 957.3h4.8v166.1h-4.8zM1779.9 937h4.8v114.8h-4.8zM1784.9 1043h7.2v34.8h-7.2zM1791.1 1062.2h7.2v41.5h-7.2zM1798.6 1014.6h4.8v73.7h-4.8zM1804.8 1060.5h4.8v109.7h-4.8zM1809.9 1161.4h7.2v44.3h-7.2zM1816.1 1196.9h7.2v23.9h-7.2zM1822.4 1211.9h7.2v16.1h-7.2zM1828.6 1219.3h7.2v12.7h-7.2zM1834.8 1223.1h7.2v17.4h-7.2zM1841.1 1225.2h7.2v16.4h-7.2zM1847.3 1228.4h7.2v15.7h-7.2zM1853.6 1219.6h7.2v15.7h-7.2zM1859.8 1225h7.2v10h-7.2zM1866.1 1222.3h7.2v11.5h-7.2zM1872.3 1216.1h7.2v21.6h-7.2zM1878.5 1205.6h7.2v19.3h-7.2zM1884.8 1215.1h7.2v15.8h-7.2zM1891 1222.1h7.2v12h-7.2zM1897.3 1225.4h7.2v10.4h-7.2zM1903.5 1227h7.2v9.7h-7.2zM1909.8 1227.9h7.2v9.3h-7.2zM1916 1230.6h7.2v9.1h-7.2zM1922.2 1230.9h7.2v9h-7.2zM1928.5 1231.1h7.2v15.5h-7.2zM1934.7 1231.2h7.2v8.8h-7.2zM1941 1229.1h7.2v15.4h-7.2zM1947.2 1228.9h7.2v15.5h-7.2zM1953.5 1228.7h7.2v9h-7.2zM1959.7 1228.3h7.2v9.2h-7.2zM1965.9 1227.6h7.2v9.5h-7.2zM1972.2 1226.5h7.2v10h-7.2zM1978.4 1224.3h7.2v11h-7.2zM1984.7 1213.3h7.2v19.8h-7.2zM1990.9 1203.5h7.2v25.2h-7.2zM1997.2 1193.6h7.2v25.2h-7.2zM2003.4 1191.4h7.2v27h-7.2zM2009.6 1209.6h7.2v17.6h-7.2zM2015.9 1218.4h7.2v12.8h-7.2zM2022.1 1222.4h7.2v17.3h-7.2zM2028.4 1224.4h7.2v16.4h-7.2zM2034.6 1225.4h7.2v9.3h-7.2zM2040.9 1228.1h7.2v15.6h-7.2zM2047.1 1228.4h7.2v8.8h-7.2zM2053.3 1221.7h7.2v15.5h-7.2zM2059.6 1228h7.2v9.1h-7.2zM2065.8 1227.4h7.2v9.3h-7.2zM2072.1 1220.1h7.2v16.1h-7.2zM2078.3 1225.5h7.2v10h-7.2zM2084.6 1223.8h7.2v10.5h-7.2zM2090.8 1214.6h7.2v18h-7.2zM2097 1210.3h7.2v19.6h-7.2z" fill="#2079f0"/>
<path d="M305.4 1145h7.2v15.4h-7.2zM311.6 1145.1h7.2v15.4h-7.2zM317.9 1151.6h7.2v8.8h-7.2zM324.1 1151.7h7.2v8.8h-7.2zM330.4 1151.7h7.2v8.8h-7.2zM336.6 1151.7h7.2v8.8h-7.2zM342.8 1151.7h7.2v8.8h-7.2zM349.1 1145.2h7.2v15.4h-7.2zM355.3 1151.8h7.2v15.4h-7.2zM361.6 1151.8h7.2v15.4h-7.2zM367.8 1151.8h7.2v8.8h-7.2zM374.1 1151.8h7.2v8.8h-7.2zM380.3 1151.8h7.2v8.8h-7.2zM386.5 1149.7h7.2v8.8h-7.2zM392.8 1149.7h7.2v8.8h-7.2zM399 1149.7h7.2v8.8h-7.2zM405.3 1149.7h7.2v8.8h-7.2zM411.5 1149.7h7.2v8.8h-7.2zM417.8 1143.2h7.2v15.4h-7.2zM424 1143.1h7.2v15.4h-7.2zM430.2 1151.8h7.2v8.9h-7.2zM436.5 1149.5h7.2v8.9h-7.2zM442.7 1142.7h7.2v15.6h-7.2zM449 1148.7h7.2v9.3h-7.2zM455.2 1147.7h7.2v9.8h-7.2zM461.5 1145.3h7.2v11.2h-7.2zM467.7 1138.2h7.2v15.9h-7.2zM473.9 1136.5h7.2v14.1h-7.2zM480.2 1135.2h7.2v17.8h-7.2zM486.4 1143.5h7.2v9.6h-7.2zM492.7 1140.6h7.2v18.3h-7.2zM498.9 1134.7h7.2v14.6h-7.2zM505.2 1123.8h7.2v19.7h-7.2zM511.4 1107.2h7.2v29.8h-7.2zM518.8 1059.4h4.8v52.2h-4.8zM525.1 958h4.8v110.2h-4.8zM531.3 675.1h4.8v291.6h-4.8zM537.6 270.2h4.8v413.8h-4.8zM543.8 416.5h4.8v469.9h-4.8zM550.1 877.7h4.8v161.2h-4.8zM556.3 1030h4.8v69.7h-4.8zM561.3 1090.9h7.2v37.1h-7.2zM567.6 1119.2h7.2v23.3h-7.2zM573.8 1133.7h7.2v16.7h-7.2zM580.1 1141.5h7.2v13.2h-7.2zM586.3 1146h7.2v11.4h-7.2zM592.6 1148.6h7.2v10.4h-7.2zM598.8 1150.1h7.2v9.8h-7.2zM605 1144.5h7.2v15.9h-7.2zM611.3 1151.7h7.2v9.2h-7.2zM617.5 1152h7.2v15.6h-7.2zM623.8 1152.3h7.2v15.5h-7.2zM630 1152.4h7.2v8.9h-7.2zM636.3 1152.5h7.2v8.9h-7.2zM642.5 1146.1h7.2v15.4h-7.2zM648.7 1152.7h7.2v15.4h-7.2zM655 1152.7h7.2v15.4h-7.2zM661.2 1146.2h7.2v15.4h-7.2zM667.5 1152.8h7.2v8.8h-7.2zM673.7 1152.8h7.2v8.8h-7.2zM680 1152.8h7.2v15.4h-7.2zM686.2 1152.8h7.2v8.8h-7.2zM692.4 1152.8h7.2v8.8h-7.2zM698.7 1150.6h7.2v8.8h-7.2zM704.9 1150.6h7.2v8.8h-7.2zM711.2 1150.5h7.2v8.9h-7.2zM717.4 1152.6h7.2v15.5h-7.2zM723.6 1145.8h7.2v15.6h-7.2zM729.9 1152h7.2v9.2h-7.2zM736.1 1151.4h7.2v15.9h-7.2zM742.4 1150.4h7.2v16.3h-7.2zM748.6 1148.8h7.2v10.5h-7.2zM754.9 1145.9h7.2v11.7h-7.2zM761.1 1140.8h7.2v20.4h-7.2zM767.3 1129.3h7.2v18.1h-7.2zM773.6 1111.1h7.2v27h-7.2zM779.8 1072.4h7.2v47.5h-7.2zM787.3 977.2h4.8v104h-4.8zM793.5 694.7h4.8v291.4h-4.8zM799.8 543h4.8v253.6h-4.8zM806 787.8h4.8v227.8h-4.8zM812.2 1011.1h4.8v85.8h-4.8zM817.3 1088.1h7.2v41.2h-7.2zM823.5 1120.5h7.2v24.3h-7.2zM829.8 1136h7.2v16.8h-7.2zM836 1144h7.2v13h-7.2zM842.3 1141.7h7.2v17.5h-7.2zM848.5 1150.4h7.2v9.5h-7.2zM854.7 1144.2h7.2v15.8h-7.2zM861 1144.6h7.2v10.5h-7.2zM867.2 1140.6h7.2v19.4h-7.2zM873.5 1131.7h7.2v24.3h-7.2zM879.7 1110.1h7.2v30.4h-7.2zM886 1084.5h7.2v34.4h-7.2zM892.2 1090.8h7.2v41.7h-7.2zM898.4 1123.7h7.2v21.3h-7.2zM904.7 1136.2h7.2v13.5h-7.2zM910.9 1140.9h7.2v9.7h-7.2zM917.2 1139.3h7.2v11.2h-7.2zM923.4 1132.5h7.2v15.6h-7.2zM929.7 1117.1h7.2v24.2h-7.2zM935.9 1081.9h7.2v46.2h-7.2zM943.3 976h4.8v114.8h-4.8zM949.6 841.3h4.8v143.5h-4.8zM955.8 906.3h4.8v162.7h-4.8zM962.1 1060.2h4.8v60.1h-4.8zM967.1 1109.3h7.2v29.4h-7.2zM973.4 1123.4h7.2v24.8h-7.2zM979.6 1139.4h7.2v13.4h-7.2zM985.8 1144h7.2v10.9h-7.2zM992.1 1148.4h7.2v9.4h-7.2zM998.3 1148.3h7.2v9.4h-7.2zM1004.6 1146.2h7.2v11h-7.2zM1010.8 1141.5h7.2v20h-7.2zM1017.1 1124.9h7.2v25.4h-7.2zM1023.3 1108.2h7.2v32.1h-7.2zM1030.7 1058.9h4.8v58.1h-4.8zM1037 1058.9h4.8v55.7h-4.8zM1042 1105.8h7.2v33.8h-7.2zM1048.3 1130.8h7.2v26.2h-7.2zM1054.5 1135.1h7.2v20.7h-7.2zM1060.8 1146.9h7.2v11.7h-7.2zM1067 1149.8h7.2v10.4h-7.2zM1073.2 1151.4h7.2v16.4h-7.2zM1079.5 1152.4h7.2v9.4h-7.2zM1085.7 1150.9h7.2v9.2h-7.2zM1092 1144.7h7.2v15.6h-7.2zM1098.2 1155.9h7.2v9h-7.2zM1104.5 1156.1h7.2v8.9h-7.2zM1110.7 1156.2h7.2v8.9h-7.2zM1116.9 1154.1h7.2v8.9h-7.2zM1123.2 1156.4h7.2v8.9h-7.2zM1129.4 1156.5h7.2v8.8h-7.2zM1135.7 1156.5h7.2v8.8h-7.2zM1141.9 1156.5h7.2v8.8h-7.2zM1148.2 1156.6h7.2v8.8h-7.2zM1154.4 1156.6h7.2v8.8h-7.2zM1160.6 1150.1h7.2v15.4h-7.2zM1166.9 1145.7h7.2v15.4h-7.2zM1173.1 1152.3h7.2v8.8h-7.2zM1179.4 1152.3h7.2v8.8h-7.2zM1185.6 1152.3h7.2v8.8h-7.2zM1191.8 1156.7h7.2v8.8h-7.2zM1198.1 1156.8h7.2v8.8h-7.2zM1204.3 1145.9h7.2v15.4h-7.2zM1210.6 1148.1h7.2v15.4h-7.2zM1216.8 1148.1h7.2v15.4h-7.2zM1223.1 1154.6h7.2v8.8h-7.2zM1229.3 1154.6h7.2v8.8h-7.2zM1235.5 1148h7.2v15.4h-7.2zM1241.8 1154.5h7.2v8.9h-7.2zM1248 1154.5h7.2v15.4h-7.2zM1254.3 1154.3h7.2v8.9h-7.2zM1260.5 1154.1h7.2v9h-7.2zM1266.8 1153.7h7.2v15.7h-7.2zM1273 1153h7.2v9.4h-7.2zM1279.2 1152h7.2v9.8h-7.2zM1285.5 1150.3h7.2v10.5h-7.2zM1291.7 1147.6h7.2v11.6h-7.2zM1298 1142.9h7.2v20h-7.2zM1304.2 1134.9h7.2v16.9h-7.2zM1310.5 1120.3h7.2v23.3h-7.2zM1316.7 1092.7h7.2v36.4h-7.2zM1324.1 1035.4h4.8v66.1h-4.8zM1330.4 899.4h4.8v144.8h-4.8zM1336.6 516.3h4.8v391.9h-4.8zM1342.9 266.5h4.8v315.7h-4.8zM1349.1 573.5h4.8v353.1h-4.8zM1355.4 917.8h4.8v132.6h-4.8zM1361.6 1041.6h4.8v61h-4.8zM1366.6 1093.9h7.2v33.1h-7.2zM1372.9 1118.1h7.2v19.7h-7.2zM1379.1 1129h7.2v11.4h-7.2zM1385.4 1126.2h7.2v14.1h-7.2zM1391.6 1108.2h7.2v26.9h-7.2zM1399.1 1059.3h4.8v57.7h-4.8zM1405.3 915.3h4.8v152.8h-4.8zM1411.5 903.6h4.8v130h-4.8zM1417.8 1024.8h4.8v82.4h-4.8zM1422.8 1098.5h7.2v37.4h-7.2zM1429.1 1127h7.2v21.7h-7.2zM1435.3 1140h7.2v15.4h-7.2zM1441.6 1137.8h7.2v19h-7.2zM1447.8 1141.4h7.2v17.4h-7.2zM1454 1152.2h7.2v10h-7.2zM1460.3 1151.3h7.2v9.6h-7.2zM1466.5 1152h7.2v9.3h-7.2zM1472.8 1145.9h7.2v15.7h-7.2zM1479 1146.2h7.2v15.6h-7.2zM1485.3 1153h7.2v8.9h-7.2zM1491.5 1153.1h7.2v8.9h-7.2zM1497.7 1153.2h7.2v8.8h-7.2zM1504 1153.3h7.2v8.8h-7.2zM1510.2 1153.3h7.2v8.8h-7.2zM1516.5 1153.2h7.2v15.4h-7.2zM1522.7 1155.3h7.2v8.9h-7.2zM1529 1155.1h7.2v9h-7.2zM1535.2 1154.8h7.2v9.1h-7.2zM1541.4 1154.2h7.2v9.3h-7.2zM1547.7 1153.3h7.2v9.7h-7.2zM1553.9 1151.6h7.2v10.5h-7.2zM1560.2 1148.6h7.2v11.8h-7.2zM1566.4 1136.2h7.2v21.2h-7.2zM1572.7 1132.3h7.2v21.4h-7.2zM1578.9 1100.6h7.2v40.5h-7.2zM1586.3 1003.5h4.8v105.8h-4.8zM1592.6 994.3h4.8v90h-4.8zM1598.8 1075.5h4.8v51.4h-4.8zM1603.9 1115.9h7.2v27h-7.2zM1610.1 1118.9h7.2v18h-7.2zM1616.4 1110.1h7.2v24.2h-7.2zM1623.8 1069.5h4.8v49.4h-4.8zM1628.8 1045.9h7.2v32.6h-7.2zM1636.3 1069.7h4.8v52.4h-4.8zM1641.3 1115.5h7.2v28.3h-7.2zM1647.6 1135.1h7.2v18.4h-7.2zM1653.8 1138.1h7.2v20.6h-7.2zM1660 1143.4h7.2v18.4h-7.2zM1666.3 1150.7h7.2v10.6h-7.2zM1672.5 1152.6h7.2v10h-7.2zM1678.8 1153.7h7.2v9.5h-7.2zM1685 1154.5h7.2v9.3h-7.2zM1691.3 1154.9h7.2v9.1h-7.2zM1697.5 1153h7.2v8.9h-7.2zM1703.7 1153h7.2v8.9h-7.2zM1710 1155h7.2v9h-7.2zM1716.2 1154.5h7.2v9.3h-7.2zM1722.5 1153.7h7.2v9.6h-7.2zM1728.7 1152.4h7.2v16.7h-7.2zM1735 1150.1h7.2v11.1h-7.2zM1741.2 1146.3h7.2v12.6h-7.2zM1747.4 1139.5h7.2v15.6h-7.2zM1753.7 1126.9h7.2v21.4h-7.2zM1759.9 1103.5h7.2v34.5h-7.2zM1767.4 1044.3h4.8v68h-4.8zM1773.6 887h4.8v166.1h-4.8zM1779.9 866.7h4.8v114.8h-4.8zM1784.9 972.7h7.2v34.8h-7.2zM1791.1 989.7h7.2v41.5h-7.2zM1798.6 942.1h4.8v73.7h-4.8zM1804.8 988h4.8v109.7h-4.8zM1809.9 1088.9h7.2v44.3h-7.2zM1816.1 1124.4h7.2v23.9h-7.2zM1822.4 1139.4h7.2v16.1h-7.2zM1828.6 1146.8h7.2v12.7h-7.2zM1834.8 1150.6h7.2v10.9h-7.2zM1841.1 1152.7h7.2v9.8h-7.2zM1847.3 1153.7h7.2v9.1h-7.2zM1853.6 1153.7h7.2v9.1h-7.2zM1859.8 1152.5h7.2v10h-7.2zM1866.1 1149.8h7.2v11.5h-7.2zM1872.3 1137h7.2v21.6h-7.2zM1878.5 1133.1h7.2v19.3h-7.2zM1884.8 1142.6h7.2v15.8h-7.2zM1891 1149.6h7.2v12h-7.2zM1897.3 1152.9h7.2v10.4h-7.2zM1903.5 1148h7.2v16.3h-7.2zM1909.8 1148.9h7.2v15.9h-7.2zM1916 1155.9h7.2v15.7h-7.2zM1922.2 1149.7h7.2v15.5h-7.2zM1928.5 1156.5h7.2v8.9h-7.2zM1934.7 1156.6h7.2v8.8h-7.2zM1941 1156.6h7.2v8.8h-7.2zM1947.2 1149.9h7.2v15.5h-7.2zM1953.5 1149.7h7.2v15.6h-7.2zM1959.7 1155.8h7.2v15.7h-7.2zM1965.9 1155.1h7.2v16h-7.2zM1972.2 1147.4h7.2v16.5h-7.2zM1978.4 1151.8h7.2v11h-7.2zM1984.7 1140.8h7.2v19.8h-7.2zM1990.9 1131h7.2v25.2h-7.2zM1997.2 1121.1h7.2v25.2h-7.2zM2003.4 1121.1h7.2v27h-7.2zM2009.6 1139.3h7.2v17.6h-7.2zM2015.9 1150.3h7.2v12.8h-7.2zM2022.1 1154.3h7.2v17.3h-7.2zM2028.4 1156.2h7.2v16.4h-7.2zM2034.6 1157.3h7.2v9.3h-7.2zM2040.9 1157.8h7.2v9h-7.2zM2047.1 1158.1h7.2v8.8h-7.2zM2053.3 1158h7.2v15.5h-7.2zM2059.6 1157.6h7.2v9.1h-7.2zM2065.8 1157.1h7.2v9.3h-7.2zM2072.1 1156.4h7.2v9.6h-7.2zM2078.3 1155.2h7.2v16.5h-7.2zM2084.6 1153.5h7.2v17.1h-7.2zM2090.8 1150.8h7.2v11.5h-7.2zM2097 1140h7.2v19.6h-7.2z" fill="#3dbf72"/>
<path d="M305.4 1063.6h7.2v15.4h-7.2zM311.6 1063.6h7.2v15.4h-7.2zM317.9 1063.7h7.2v8.8h-7.2zM324.1 1057.1h7.2v15.4h-7.2zM330.4 1057.2h7.2v15.4h-7.2zM336.6 1057.2h7.2v15.4h-7.2zM342.8 1063.8h7.2v8.8h-7.2zM349.1 1063.8h7.2v8.8h-7.2zM355.3 1057.3h7.2v15.4h-7.2zM361.6 1063.9h7.2v15.4h-7.2zM367.8 1063.9h7.2v8.8h-7.2zM374.1 1063.9h7.2v8.8h-7.2zM380.3 1064h7.2v8.8h-7.2zM386.5 1064h7.2v8.8h-7.2zM392.8 1064h7.2v15.4h-7.2zM399 1061.9h7.2v15.4h-7.2zM405.3 1061.9h7.2v8.8h-7.2zM411.5 1061.9h7.2v8.8h-7.2zM417.8 1064.1h7.2v8.8h-7.2zM424 1057.5h7.2v15.4h-7.2zM430.2 1057.5h7.2v15.4h-7.2zM436.5 1063.9h7.2v8.9h-7.2zM442.7 1063.6h7.2v9h-7.2zM449 1063.2h7.2v15.8h-7.2zM455.2 1062.2h7.2v9.8h-7.2zM461.5 1061.9h7.2v11.2h-7.2zM467.7 1052.7h7.2v15.8h-7.2zM473.9 1044.4h7.2v20.6h-7.2zM480.2 1049.7h7.2v17.8h-7.2zM486.4 1060.2h7.2v9.6h-7.2zM492.7 1057.3h7.2v11.7h-7.2zM498.9 1051.4h7.2v14.6h-7.2zM505.2 1034h7.2v26.3h-7.2zM511.4 1019.5h7.2v29.8h-7.2zM518.8 976.1h4.8v52.2h-4.8zM525.1 874.7h4.8v110.2h-4.8zM531.3 589.7h4.8v291.6h-4.8zM537.6 184.7h4.8v413.8h-4.8zM543.8 328.9h4.8v469.9h-4.8zM550.1 790.1h4.8v161.2h-4.8zM556.3 942.4h4.8v69.7h-4.8zM561.3 1003.4h7.2v37.1h-7.2zM567.6 1031.6h7.2v23.3h-7.2zM573.8 1046.1h7.2v16.7h-7.2zM580.1 1054h7.2v13.3h-7.2zM586.3 1058.4h7.2v11.4h-7.2zM592.6 1061h7.2v16.9h-7.2zM598.8 1062.6h7.2v16.3h-7.2zM605 1065.7h7.2v9.4h-7.2zM611.3 1066.3h7.2v15.7h-7.2zM617.5 1066.7h7.2v15.6h-7.2zM623.8 1067h7.2v9h-7.2zM630 1067.2h7.2v8.9h-7.2zM636.3 1067.3h7.2v15.4h-7.2zM642.5 1067.4h7.2v8.9h-7.2zM648.7 1067.4h7.2v8.9h-7.2zM655 1067.5h7.2v8.8h-7.2zM661.2 1061h7.2v15.4h-7.2zM667.5 1067.6h7.2v15.4h-7.2zM673.7 1061h7.2v15.4h-7.2zM680 1067.6h7.2v8.8h-7.2zM686.2 1067.7h7.2v8.8h-7.2zM692.4 1067.7h7.2v8.8h-7.2zM698.7 1067.7h7.2v15.4h-7.2zM704.9 1067.6h7.2v15.4h-7.2zM711.2 1067.6h7.2v8.9h-7.2zM717.4 1067.5h7.2v15.5h-7.2zM723.6 1067.3h7.2v9h-7.2zM729.9 1066.9h7.2v9.1h-7.2zM736.1 1066.3h7.2v9.4h-7.2zM742.4 1058.8h7.2v16.3h-7.2zM748.6 1057.2h7.2v17h-7.2zM754.9 1058.7h7.2v11.7h-7.2zM761.1 1053.6h7.2v13.9h-7.2zM767.3 1044.3h7.2v18.1h-7.2zM773.6 1026.1h7.2v26.9h-7.2zM779.8 987.4h7.2v47.5h-7.2zM787.3 892.2h4.8v104h-4.8zM793.5 609.7h4.8v291.3h-4.8zM799.8 458h4.8v253.6h-4.8zM806 705h4.8v227.8h-4.8zM812.2 924h4.8v85.8h-4.8zM817.3 1001h7.2v41.2h-7.2zM823.5 1033.4h7.2v24.3h-7.2zM829.8 1048.9h7.2v23.4h-7.2zM836 1056.9h7.2v13h-7.2zM842.3 1061.1h7.2v10.9h-7.2zM848.5 1063.3h7.2v16.1h-7.2zM854.7 1063.6h7.2v9.2h-7.2zM861 1061.9h7.2v10.5h-7.2zM867.2 1057.9h7.2v12.8h-7.2zM873.5 1042.4h7.2v24.3h-7.2zM879.7 1027.4h7.2v30.3h-7.2zM886 1001.9h7.2v34.4h-7.2zM892.2 1008.1h7.2v41.7h-7.2zM898.4 1034.5h7.2v27.9h-7.2zM904.7 1053.6h7.2v13.5h-7.2zM910.9 1058.3h7.2v9.7h-7.2zM917.2 1056.7h7.2v11.2h-7.2zM923.4 1050h7.2v15.6h-7.2zM929.7 1034.5h7.2v24.2h-7.2zM935.9 997.2h7.2v46.1h-7.2zM943.3 891.2h4.8v114.8h-4.8zM949.6 756.5h4.8v143.5h-4.8zM955.8 821.6h4.8v162.7h-4.8zM962.1 975.5h4.8v60.1h-4.8zM967.1 1026.8h7.2v29.4h-7.2zM973.4 1047.4h7.2v18.3h-7.2zM979.6 1048.2h7.2v20h-7.2zM985.8 1052.8h7.2v17.5h-7.2zM992.1 1055h7.2v16h-7.2zM998.3 1054.9h7.2v16h-7.2zM1004.6 1059.4h7.2v11h-7.2zM1010.8 1054.7h7.2v13.5h-7.2zM1017.1 1044.7h7.2v18.8h-7.2zM1023.3 1021.4h7.2v32.1h-7.2zM1030.7 972.1h4.8v58.1h-4.8zM1037 972.1h4.8v55.7h-4.8zM1042 1019h7.2v33.8h-7.2zM1048.3 1044h7.2v19.7h-7.2zM1054.5 1054.9h7.2v14.1h-7.2zM1060.8 1060.2h7.2v11.7h-7.2zM1067 1063.1h7.2v17h-7.2zM1073.2 1064.7h7.2v9.8h-7.2zM1079.5 1065.7h7.2v9.4h-7.2zM1085.7 1066.4h7.2v9.2h-7.2zM1092 1064.6h7.2v15.6h-7.2zM1098.2 1064.9h7.2v9h-7.2zM1104.5 1058.5h7.2v15.5h-7.2zM1110.7 1065.2h7.2v15.5h-7.2zM1116.9 1065.3h7.2v15.4h-7.2zM1123.2 1065.4h7.2v8.9h-7.2zM1129.4 1058.9h7.2v15.4h-7.2zM1135.7 1065.5h7.2v8.8h-7.2zM1141.9 1065.6h7.2v8.8h-7.2zM1148.2 1065.6h7.2v8.8h-7.2zM1154.4 1065.6h7.2v8.8h-7.2zM1160.6 1065.7h7.2v8.8h-7.2zM1166.9 1065.7h7.2v8.8h-7.2zM1173.1 1065.8h7.2v8.8h-7.2zM1179.4 1068h7.2v8.8h-7.2zM1185.6 1068h7.2v8.8h-7.2zM1191.8 1068h7.2v8.8h-7.2zM1198.1 1068.1h7.2v8.8h-7.2zM1204.3 1068.1h7.2v8.8h-7.2zM1210.6 1068.1h7.2v15.4h-7.2zM1216.8 1070.3h7.2v15.4h-7.2zM1223.1 1070.3h7.2v8.8h-7.2zM1229.3 1070.4h7.2v8.8h-7.2zM1235.5 1070.3h7.2v8.8h-7.2zM1241.8 1068.1h7.2v8.8h-7.2zM1248 1068h7.2v8.9h-7.2zM1254.3 1067.9h7.2v8.9h-7.2zM1260.5 1067.7h7.2v9h-7.2zM1266.8 1060.7h7.2v15.7h-7.2zM1273 1060.1h7.2v16h-7.2zM1279.2 1065.6h7.2v16.4h-7.2zM1285.5 1064h7.2v10.5h-7.2zM1291.7 1061.2h7.2v11.6h-7.2zM1298 1056.6h7.2v13.4h-7.2zM1304.2 1048.5h7.2v23.4h-7.2zM1310.5 1036.2h7.2v23.3h-7.2zM1316.7 1008.6h7.2v36.4h-7.2zM1324.1 951.3h4.8v66.1h-4.8zM1330.4 815.3h4.8v144.8h-4.8zM1336.6 432.2h4.8v391.9h-4.8zM1342.9 182.4h4.8v315.7h-4.8zM1349.1 489.4h4.8v353.1h-4.8zM1355.4 829.4h4.8v132.7h-4.8zM1361.6 953.2h4.8v61h-4.8zM1366.6 1005.5h7.2v33.1h-7.2zM1372.9 1023.2h7.2v26.2h-7.2zM1379.1 1040.6h7.2v11.5h-7.2zM1385.4 1037.9h7.2v20.7h-7.2zM1391.6 1019.8h7.2v26.9h-7.2zM1399.1 971h4.8v57.6h-4.8zM1405.3 826.9h4.8v152.8h-4.8zM1411.5 815.3h4.8v130h-4.8zM1417.8 936.5h4.8v82.5h-4.8zM1422.8 1010.1h7.2v37.4h-7.2zM1429.1 1038.7h7.2v28.3h-7.2zM1435.3 1051.7h7.2v15.4h-7.2zM1441.6 1058.3h7.2v12.4h-7.2zM1447.8 1055.3h7.2v17.4h-7.2zM1454 1061.8h7.2v16.6h-7.2zM1460.3 1069.6h7.2v9.6h-7.2zM1466.5 1063.8h7.2v15.8h-7.2zM1472.8 1070.8h7.2v15.7h-7.2zM1479 1064.6h7.2v15.6h-7.2zM1485.3 1071.3h7.2v15.5h-7.2zM1491.5 1071.5h7.2v15.4h-7.2zM1497.7 1071.6h7.2v8.9h-7.2zM1504 1065.1h7.2v15.4h-7.2zM1510.2 1071.6h7.2v15.4h-7.2zM1516.5 1069.4h7.2v15.4h-7.2zM1522.7 1069.3h7.2v8.9h-7.2zM1529 1069.1h7.2v9h-7.2zM1535.2 1068.8h7.2v9.1h-7.2zM1541.4 1061.7h7.2v15.9h-7.2zM1547.7 1067.4h7.2v9.7h-7.2zM1553.9 1065.7h7.2v10.4h-7.2zM1560.2 1062.7h7.2v18.4h-7.2zM1566.4 1056.8h7.2v21.2h-7.2zM1572.7 1044.2h7.2v21.4h-7.2zM1578.9 1012.5h7.2v40.5h-7.2zM1586.3 913.3h4.8v105.8h-4.8zM1592.6 904.1h4.8v90h-4.8zM1598.8 985.3h4.8v51.4h-4.8zM1603.9 1027.9h7.2v20.5h-7.2zM1610.1 1037.5h7.2v11.4h-7.2zM1616.4 1022.1h7.2v24.2h-7.2zM1623.8 981.5h4.8v49.4h-4.8zM1628.8 960.1h7.2v32.6h-7.2zM1636.3 983.9h4.8v52.5h-4.8zM1641.3 1027.6h7.2v28.4h-7.2zM1647.6 1047.1h7.2v18.5h-7.2zM1653.8 1054.6h7.2v14h-7.2zM1660 1059.8h7.2v11.8h-7.2zM1666.3 1062.8h7.2v10.6h-7.2zM1672.5 1064.7h7.2v10h-7.2zM1678.8 1063.7h7.2v16.1h-7.2zM1685 1064.4h7.2v15.8h-7.2zM1691.3 1064.9h7.2v15.6h-7.2zM1697.5 1071.7h7.2v8.9h-7.2zM1703.7 1071.7h7.2v8.8h-7.2zM1710 1071.5h7.2v9h-7.2zM1716.2 1071.1h7.2v9.3h-7.2zM1722.5 1070.3h7.2v9.6h-7.2zM1728.7 1068.9h7.2v10.1h-7.2zM1735 1060.1h7.2v17.6h-7.2zM1741.2 1056.3h7.2v19.2h-7.2zM1747.4 1056.1h7.2v15.5h-7.2zM1753.7 1043.5h7.2v21.4h-7.2zM1759.9 1017.9h7.2v34.5h-7.2zM1767.4 958.7h4.8v67.9h-4.8zM1773.6 801.4h4.8v166.1h-4.8zM1779.9 781.1h4.8v114.8h-4.8zM1784.9 887.2h7.2v34.8h-7.2zM1791.1 906.4h7.2v41.5h-7.2zM1798.6 858.7h4.8v73.6h-4.8zM1804.8 904.7h4.8v109.8h-4.8zM1809.9 1005.6h7.2v44.3h-7.2zM1816.1 1038.9h7.2v23.9h-7.2zM1822.4 1054h7.2v16.1h-7.2zM1828.6 1061.3h7.2v12.7h-7.2zM1834.8 1067.3h7.2v17.4h-7.2zM1841.1 1069.4h7.2v9.8h-7.2zM1847.3 1070.5h7.2v9.1h-7.2zM1853.6 1059.6h7.2v15.7h-7.2zM1859.8 1058.4h7.2v16.5h-7.2zM1866.1 1064.4h7.2v11.5h-7.2zM1872.3 1058.2h7.2v15h-7.2zM1878.5 1054.3h7.2v12.7h-7.2zM1884.8 1057.2h7.2v22.4h-7.2zM1891 1064.3h7.2v12.1h-7.2zM1897.3 1067.5h7.2v17h-7.2zM1903.5 1069.2h7.2v9.7h-7.2zM1909.8 1070.1h7.2v9.3h-7.2zM1916 1070.6h7.2v9.1h-7.2zM1922.2 1071h7.2v9h-7.2zM1928.5 1064.6h7.2v15.5h-7.2zM1934.7 1071.3h7.2v8.8h-7.2zM1941 1062.6h7.2v15.4h-7.2zM1947.2 1062.5h7.2v15.5h-7.2zM1953.5 1068.8h7.2v15.6h-7.2zM1959.7 1068.4h7.2v15.7h-7.2zM1965.9 1067.7h7.2v9.5h-7.2zM1972.2 1066.6h7.2v10h-7.2zM1978.4 1064.4h7.2v11h-7.2zM1984.7 1060h7.2v13.2h-7.2zM1990.9 1050.2h7.2v18.6h-7.2zM1997.2 1036h7.2v25.2h-7.2zM2003.4 1036h7.2v27h-7.2zM2009.6 1054.2h7.2v17.6h-7.2zM2015.9 1063h7.2v19.3h-7.2zM2022.1 1066.9h7.2v10.8h-7.2zM2028.4 1068.9h7.2v16.4h-7.2zM2034.6 1063.4h7.2v15.9h-7.2zM2040.9 1070.5h7.2v9.1h-7.2zM2047.1 1070.8h7.2v8.9h-7.2zM2053.3 1070.7h7.2v8.9h-7.2zM2059.6 1072.6h7.2v9.1h-7.2zM2065.8 1065.5h7.2v15.9h-7.2zM2072.1 1064.8h7.2v16.1h-7.2zM2078.3 1070.2h7.2v16.5h-7.2zM2084.6 1068.5h7.2v17.1h-7.2zM2090.8 1065.8h7.2v11.5h-7.2zM2097 1059.4h7.2v13h-7.2z" fill="#c17ff4"/>
<rect x="536.9" y="715" width="5.4" height="270" fill="#fff"/>
<rect x="1339.9" y="785" width="5.4" height="190" fill="#fff"/>
<rect x="534.2" y="183" width="9" height="308" fill="#c17ff4"/>
<rect x="534.2" y="491" width="9" height="44" fill="#3dbf72"/>
<rect x="534.2" y="535" width="9" height="77" fill="#2079f0"/>
<rect x="534.2" y="612" width="9" height="108" fill="#ff4141"/>
<rect x="795" y="458" width="9" height="376" fill="#c17ff4"/>
<rect x="795" y="834" width="9" height="100" fill="#3dbf72"/>
<rect x="795" y="934" width="9" height="71" fill="#2079f0"/>
<rect x="795" y="1005" width="9" height="72" fill="#ff4141"/>
<rect x="946.5" y="756" width="9" height="118" fill="#c17ff4"/>
<rect x="946.5" y="874" width="9" height="52" fill="#3dbf72"/>
<rect x="946.5" y="926" width="9" height="75" fill="#2079f0"/>
<rect x="946.5" y="1001" width="9" height="104" fill="#ff4141"/>
<rect x="1338" y="181" width="9" height="405" fill="#c17ff4"/>
<rect x="1338" y="586" width="9" height="34" fill="#3dbf72"/>
<rect x="1338" y="620" width="9" height="72" fill="#2079f0"/>
<rect x="1338" y="692" width="9" height="98" fill="#ff4141"/>
<rect x="1406" y="813" width="9" height="137" fill="#c17ff4"/>
<rect x="1406" y="950" width="9" height="37" fill="#3dbf72"/>
<rect x="1406" y="987" width="9" height="67" fill="#2079f0"/>
<rect x="1406" y="1086" width="9" height="56" fill="#ff4141"/>
<rect x="1406" y="1142" width="9" height="28" fill="#4d5a5a"/>
<rect x="1774.9" y="788" width="9" height="92" fill="#c17ff4"/>
<rect x="1774.9" y="880" width="9" height="73" fill="#3dbf72"/>
<rect x="1774.9" y="953" width="9" height="79" fill="#2079f0"/>
<rect x="1774.9" y="1032" width="9" height="74" fill="#ff4141"/>
<rect x="308.5" y="46.5" width="1793.0" height="1436.0" fill="none" stroke="#1e1e1e" stroke-width="7.2"/>
<path d="M308 1482v29M607 1482v29M906 1482v29M1201 1482v29M1501 1482v29M1801 1482v29M2099.5 1482v29M457 1482v13M757.5 1482v13M1051.5 1482v13M1351 1482v13M1651 1482v13M1950 1482v13" stroke="#141414" stroke-width="7" fill="none"/>
<rect x="1563.5" y="71.5" width="368.5" height="506" fill="#fff" stroke="#141414" stroke-width="7"/>
<path d="M1574 120.5H1760" stroke="#5f5f5f" stroke-width="7"/>
<path d="M1574 221H1760" stroke="#ff5252" stroke-width="7"/>
<path d="M1574 320.5H1760" stroke="#2f7fee" stroke-width="7"/>
<path d="M1574 420.5H1760" stroke="#45b877" stroke-width="7"/>
<path d="M1574 520.5H1760" stroke="#c184ee" stroke-width="7"/>
</g>
<g filter="url(#bt)">
<text transform="translate(1774.9 151) scale(0.8146 0.9319)" font-family='"Liberation Sans", Arial, Helvetica, sans-serif' font-weight="normal" font-size="100" fill="#111" stroke="#111" stroke-width="0.6">2T</text>
<text transform="translate(1777.2 250.5) scale(0.7946 0.9455)" font-family='"Liberation Sans", Arial, Helvetica, sans-serif' font-weight="normal" font-size="100" fill="#111" stroke="#111" stroke-width="0.6">4T</text>
<text transform="translate(1774.9 350.1) scale(0.8146 0.9187)" font-family='"Liberation Sans", Arial, Helvetica, sans-serif' font-weight="normal" font-size="100" fill="#111" stroke="#111" stroke-width="0.6">6T</text>
<text transform="translate(1775.6 450.1) scale(0.8091 0.9187)" font-family='"Liberation Sans", Arial, Helvetica, sans-serif' font-weight="normal" font-size="100" fill="#111" stroke="#111" stroke-width="0.6">8T</text>
<text transform="translate(1780.2 549.1) scale(0.7692 0.9187)" font-family='"Liberation Sans", Arial, Helvetica, sans-serif' font-weight="normal" font-size="100" fill="#111" stroke="#111" stroke-width="0.6">10T</text>
<text transform="translate(340 134.4) scale(0.7955 0.7507)" font-family='"Liberation Sans", Arial, Helvetica, sans-serif' font-weight="normal" font-size="100" fill="#111" stroke="#111" stroke-width="1.8">(a)</text>
<text transform="translate(606.4 156) scale(0.7984 0.7418)" font-family='"Liberation Sans", Arial, Helvetica, sans-serif' font-weight="normal" font-size="100" fill="#111" stroke="#111" stroke-width="2.5">Rutile</text>
<text transform="translate(567.2 191.5) rotate(-90) scale(0.7163 0.8339)" font-family='"Liberation Sans", Arial, Helvetica, sans-serif' font-weight="bold" font-size="100" fill="#111">101</text>
<text transform="translate(835.2 466.2) rotate(-90) scale(0.6656 0.8198)" font-family='"Liberation Sans", Arial, Helvetica, sans-serif' font-weight="bold" font-size="100" fill="#111">101</text>
<text transform="translate(962 743.9) rotate(-90) scale(0.7905 0.8582)" font-family='"Liberation Sans", Arial, Helvetica, sans-serif' font-weight="bold" font-size="100" fill="#111">111</text>
<text transform="translate(891.2 957.7) rotate(-90) scale(0.7849 0.7915)" font-family='"Liberation Sans", Arial, Helvetica, sans-serif' font-weight="bold" font-size="100" fill="#111">200</text>
<text transform="translate(1073.2 946.5) rotate(-90) scale(0.7284 0.8198)" font-family='"Liberation Sans", Arial, Helvetica, sans-serif' font-weight="bold" font-size="100" fill="#111">210</text>
<text transform="translate(1400 229.5) rotate(-90) scale(0.7097 0.8602)" font-family='"Liberation Sans", Arial, Helvetica, sans-serif' font-weight="bold" font-size="100" fill="#111">211</text>
<text transform="translate(1619.1 898.9) rotate(-90) scale(0.7358 0.8622)" font-family='"Liberation Sans", Arial, Helvetica, sans-serif' font-weight="bold" font-size="100" fill="#111">002</text>
<text transform="translate(1686 958.6) rotate(-90) scale(0.7227 0.8310)" font-family='"Liberation Sans", Arial, Helvetica, sans-serif' font-weight="bold" font-size="100" fill="#111">310</text>
<text transform="translate(1805.9 772) rotate(-90) scale(0.6770 0.8732)" font-family='"Liberation Sans", Arial, Helvetica, sans-serif' font-weight="bold" font-size="100" fill="#111">301</text>
<text transform="translate(1436.8 824.6) rotate(-90) scale(0.6234 0.6572)" font-family='"Liberation Sans", Arial, Helvetica, sans-serif' font-weight="normal" font-size="100" fill="#111" stroke="#111" stroke-width="2.2">220</text>
<text transform="translate(255.6 905.5) rotate(-90) scale(0.7434 0.8669)" font-family='"Liberation Sans", Arial, Helvetica, sans-serif' font-weight="bold" font-size="100" fill="#111">Intensity (a.u)</text>
<text transform="translate(272.9 1574.8) scale(0.6087 0.6572)" font-family='"Liberation Sans", Arial, Helvetica, sans-serif' font-weight="bold" font-size="100" fill="#111" stroke="#fff" stroke-width="1.2">20</text>
<text transform="translate(574.1 1574.7) scale(0.6014 0.6549)" font-family='"Liberation Sans", Arial, Helvetica, sans-serif' font-weight="bold" font-size="100" fill="#111" stroke="#fff" stroke-width="1.2">30</text>
<text transform="translate(870.6 1574.8) scale(0.5972 0.6572)" font-family='"Liberation Sans", Arial, Helvetica, sans-serif' font-weight="bold" font-size="100" fill="#111" stroke="#fff" stroke-width="1.2">40</text>
<text transform="translate(1168.7 1574.8) scale(0.6058 0.6572)" font-family='"Liberation Sans", Arial, Helvetica, sans-serif' font-weight="bold" font-size="100" fill="#111" stroke="#fff" stroke-width="1.2">50</text>
<text transform="translate(1467.7 1574.8) scale(0.6102 0.6572)" font-family='"Liberation Sans", Arial, Helvetica, sans-serif' font-weight="bold" font-size="100" fill="#111" stroke="#fff" stroke-width="1.2">60</text>
<text transform="translate(1764.9 1574.8) scale(0.6131 0.6572)" font-family='"Liberation Sans", Arial, Helvetica, sans-serif' font-weight="bold" font-size="100" fill="#111" stroke="#fff" stroke-width="1.2">70</text>
<text transform="translate(2064 1574.8) scale(0.6072 0.6572)" font-family='"Liberation Sans", Arial, Helvetica, sans-serif' font-weight="bold" font-size="100" fill="#111" stroke="#fff" stroke-width="1.2">80</text>
<text transform="translate(1035.6 1680.1) scale(0.9681 0.8776)" font-family='"Liberation Sans", Arial, Helvetica, sans-serif' font-weight="bold" font-size="100" fill="#111">2θ</text>
<text transform="translate(1184 1677.4) scale(0.7955 0.7507)" font-family='"Liberation Sans", Arial, Helvetica, sans-serif' font-weight="normal" font-size="100" fill="#111" stroke="#111" stroke-width="2.5">(deg)</text>
</g>
</g>
<g id="chart-b">
<g filter="url(#bb)">
<path d="M182 3040.3h5.7v29.7h-5.7zM187.3 3038.5h6.6v31.5h-6.6zM193.5 3038.7h6.6v31.3h-6.6zM199.8 3051.3h6.6v18.7h-6.6zM206 3031.5h6.6v38.5h-6.6zM212.3 3036.9h6.6v33.1h-6.6zM218.5 3053h6.6v17h-6.6zM224.7 3041.8h6.6v28.2h-6.6zM231 3053.3h6.6v16.7h-6.6zM237.2 3047.7h6.6v22.3h-6.6zM243.5 3045.6h6.6v24.4h-6.6zM249.7 3045.8h6.6v24.2h-6.6zM255.9 3045.9h6.6v24.1h-6.6zM262.2 3048h6.6v22h-6.6zM268.4 3053.3h6.6v16.7h-6.6zM274.7 3019.3h6.6v50.7h-6.6zM299.6 2998h6.6v72h-6.6zM305.9 3035h6.6v35h-6.6zM312.1 3053.7h6.6v16.3h-6.6zM318.4 3054.5h6.6v15.5h-6.6zM324.6 3050.2h6.6v19.8h-6.6zM330.9 3049.6h6.6v20.4h-6.6zM337.1 3052.5h6.6v17.5h-6.6zM343.3 3042.7h6.6v27.3h-6.6zM349.6 3051.2h6.6v18.8h-6.6zM355.8 3046.5h6.6v23.5h-6.6zM362.1 3027.8h6.6v42.2h-6.6zM368.3 3039.4h6.6v30.6h-6.6zM374.6 3048.7h6.6v21.3h-6.6zM380.8 3050.4h6.6v19.6h-6.6zM387 3054.6h6.6v15.4h-6.6zM393.3 3047.4h6.6v22.6h-6.6zM399.5 3049h6.6v21h-6.6zM405.8 3028.6h6.6v41.4h-6.6zM412 3052.2h6.6v17.8h-6.6zM418.3 3040h6.6v30h-6.6zM424.5 3049h6.6v21h-6.6zM430.7 3039.3h6.6v30.7h-6.6zM437 3047.4h6.6v22.6h-6.6zM443.2 3052.3h6.6v17.7h-6.6zM449.5 3038.7h6.6v31.3h-6.6zM455.7 3047.6h6.6v22.4h-6.6zM462 3044.2h6.6v25.8h-6.6zM468.2 3053.6h6.6v16.4h-6.6zM474.4 3053.8h6.6v16.2h-6.6zM480.7 3038h6.6v32h-6.6zM486.9 3054.6h6.6v15.4h-6.6zM493.2 3022.7h6.6v47.3h-6.6zM499.4 3053.1h6.6v16.9h-6.6zM505.7 3039.6h6.6v30.4h-6.6zM511.9 3051.6h6.6v18.4h-6.6zM518.1 3047.7h6.6v22.3h-6.6zM524.4 3051.1h6.6v18.9h-6.6zM530.6 3045.8h6.6v24.2h-6.6zM536.9 3038.5h6.6v31.5h-6.6zM543.1 3039.9h6.6v30.1h-6.6zM549.4 3051.5h6.6v18.5h-6.6zM555.6 3048.2h6.6v21.8h-6.6zM561.8 3051.4h6.6v18.6h-6.6zM568.1 3019.5h6.6v50.5h-6.6zM574.3 3023.5h6.6v46.5h-6.6zM580.6 3049.2h6.6v20.8h-6.6zM586.8 3052.7h6.6v17.3h-6.6zM593.1 3053.8h6.6v16.2h-6.6zM599.3 3047.1h6.6v22.9h-6.6zM605.5 3031.7h6.6v38.3h-6.6zM611.8 3052.3h6.6v17.7h-6.6zM618 3052.8h6.6v17.2h-6.6zM624.3 3039.2h6.6v30.8h-6.6zM630.5 3048.7h6.6v21.3h-6.6zM636.8 3040.7h6.6v29.3h-6.6zM643 3040.2h6.6v29.8h-6.6zM649.2 3049.4h6.6v20.6h-6.6zM655.5 3051.1h6.6v18.9h-6.6zM661.7 3040.8h6.6v29.2h-6.6zM668 3047.4h6.6v22.6h-6.6zM674.2 3010h6.6v60h-6.6zM699.2 3013.1h6.6v56.9h-6.6zM705.4 3049.8h6.6v20.2h-6.6zM711.7 3039.5h6.6v30.5h-6.6zM717.9 3048.3h6.6v21.7h-6.6zM724.1 3031.1h6.6v38.9h-6.6zM730.4 3018.4h6.6v51.6h-6.6zM736.6 3050.8h6.6v19.2h-6.6zM742.9 3048.3h6.6v21.7h-6.6zM749.1 3033.2h6.6v36.8h-6.6zM755.4 3040.5h6.6v29.5h-6.6zM761.6 3045.5h6.6v24.5h-6.6zM767.8 3041.8h6.6v28.2h-6.6zM774.1 3043.2h6.6v26.8h-6.6zM780.3 3040h6.6v30h-6.6zM786.6 3040.5h6.6v29.5h-6.6zM792.8 3053.7h6.6v16.3h-6.6zM799.1 3049.8h6.6v20.2h-6.6zM805.3 3049.5h6.6v20.5h-6.6zM811.5 3046.6h6.6v23.4h-6.6zM817.8 3053.2h6.6v16.8h-6.6zM824 3001.8h6.6v68.2h-6.6zM836.5 3035h6.6v35h-6.6zM842.8 3052h6.6v18h-6.6zM849 3041.7h6.6v28.3h-6.6zM855.2 3047.8h6.6v22.2h-6.6zM861.5 3051.8h6.6v18.2h-6.6zM867.7 3051.7h6.6v18.3h-6.6zM874 3048.3h6.6v21.7h-6.6zM880.2 3054.7h6.6v15.3h-6.6zM886.5 3046.1h6.6v23.9h-6.6zM892.7 3043.9h6.6v26.1h-6.6zM898.9 3038.4h6.6v31.6h-6.6zM905.2 3043.2h6.6v26.8h-6.6zM911.4 3037.6h6.6v32.4h-6.6zM930.2 2998h6.6v72h-6.6zM936.4 3043.8h6.6v26.2h-6.6zM942.6 3038h6.6v32h-6.6zM948.9 3050.5h6.6v19.5h-6.6zM955.1 3045.7h6.6v24.3h-6.6zM961.4 3039h6.6v31h-6.6zM967.6 3051.5h6.6v18.5h-6.6zM973.9 3052.7h6.6v17.3h-6.6zM980.1 3024.2h6.6v45.8h-6.6zM986.3 3018.9h6.6v51.1h-6.6zM992.6 3044.7h6.6v25.3h-6.6zM998.8 3023h6.6v47h-6.6zM1005.1 3052.4h6.6v17.6h-6.6zM1011.3 3023.1h6.6v46.9h-6.6zM1017.6 3051.2h6.6v18.8h-6.6zM1023.8 3050h6.6v20h-6.6zM1030 3052.7h6.6v17.3h-6.6zM1036.3 3039.6h6.6v30.4h-6.6zM1042.5 3009.6h6.6v60.4h-6.6zM1055 3038.4h6.6v31.6h-6.6zM1061.3 3053.8h6.6v16.2h-6.6zM1067.5 3025.1h6.6v44.9h-6.6zM1073.7 3042.7h6.6v27.3h-6.6zM1080 3041.6h6.6v28.4h-6.6zM1086.2 3045.9h6.6v24.1h-6.6zM1092.5 3044.3h6.6v25.7h-6.6zM1098.7 3044h6.6v26h-6.6zM1105 3050.8h6.6v19.2h-6.6zM1111.2 3052.1h6.6v17.9h-6.6zM1117.4 3050.6h6.6v19.4h-6.6zM1123.7 3058.1h6.6v11.9h-6.6zM1129.9 3054.6h6.6v15.4h-6.6zM1136.2 3044.6h6.6v25.4h-6.6zM1142.4 3055.3h6.6v14.7h-6.6zM1148.7 3056.4h6.6v13.6h-6.6zM1154.9 3050.4h6.6v19.6h-6.6zM1161.1 3054.6h6.6v15.4h-6.6zM1167.4 3057.4h6.6v12.6h-6.6zM1173.6 3046.9h6.6v23.1h-6.6zM1179.9 3055h6.6v15h-6.6zM1186.1 3055h6.6v15h-6.6zM1192.3 3051.6h6.6v18.4h-6.6zM1198.6 3055.3h6.6v14.7h-6.6zM1204.8 3047.3h6.6v22.7h-6.6zM1211.1 3056.5h6.6v13.5h-6.6zM1217.3 3057.7h6.6v12.3h-6.6zM1223.6 3056.3h6.6v13.7h-6.6zM1229.8 3053.7h6.6v16.3h-6.6zM1236 3055.1h6.6v14.9h-6.6zM1242.3 3050.2h6.6v19.8h-6.6zM1248.5 3055.6h6.6v14.4h-6.6zM1254.8 3035h6.6v35h-6.6zM1261 3053.8h6.6v16.2h-6.6zM1267.3 3046.8h6.6v23.2h-6.6zM1273.5 3048.5h6.6v21.5h-6.6zM1279.7 3053.3h6.6v16.7h-6.6zM1286 3054.6h6.6v15.4h-6.6zM1292.2 3056.2h6.6v13.8h-6.6zM1298.5 3058.6h6.6v11.4h-6.6zM1304.7 3053.9h6.6v16.1h-6.6zM1311 3057.4h6.6v12.6h-6.6zM1317.2 3059.1h6.6v10.9h-6.6zM1323.4 3049.7h6.6v20.3h-6.6zM1329.7 3047.3h6.6v22.7h-6.6zM1335.9 3057.8h6.6v12.2h-6.6zM1342.2 3051.2h6.6v18.8h-6.6zM1348.4 3045.7h6.6v24.3h-6.6zM1354.7 3055.7h6.6v14.3h-6.6zM1360.9 3056.1h6.6v13.9h-6.6zM1367.1 3054.6h6.6v15.4h-6.6zM1373.4 3050.5h6.6v19.5h-6.6zM1379.6 3056.5h6.6v13.5h-6.6zM1385.9 3055.5h6.6v14.5h-6.6zM1392.1 3058.7h6.6v11.3h-6.6zM1398.4 3057.5h6.6v12.5h-6.6zM1404.6 3053.1h6.6v16.9h-6.6zM1410.8 3050.2h6.6v19.8h-6.6zM1417.1 3055.9h6.6v14.1h-6.6zM1423.3 3058.8h6.6v11.2h-6.6zM1429.6 3052.7h6.6v17.3h-6.6zM1435.8 3045h6.6v25h-6.6zM1442.1 3055.2h6.6v14.8h-6.6zM1448.3 3055.6h6.6v14.4h-6.6zM1454.5 3058.6h6.6v11.4h-6.6zM1460.8 3043.7h6.6v26.3h-6.6zM1467 3058.8h6.6v11.2h-6.6zM1473.3 3037.2h6.6v32.8h-6.6zM1479.5 3053.3h6.6v16.7h-6.6zM1485.8 3052h6.6v18h-6.6zM1492 3053.1h6.6v16.9h-6.6zM1498.2 3028.1h6.6v41.9h-6.6zM1529.5 2998h6.6v72h-6.6zM1535.7 3045.1h6.6v24.9h-6.6zM1541.9 3058.9h6.6v11.1h-6.6zM1548.2 3059.2h6.6v10.8h-6.6zM1554.4 3045h6.6v25h-6.6zM1560.7 3054.1h6.6v15.9h-6.6zM1566.9 3054.7h6.6v15.3h-6.6zM1573.2 3051.6h6.6v18.4h-6.6zM1579.4 3058.9h6.6v11.1h-6.6zM1585.6 3058.6h6.6v11.4h-6.6zM1591.9 3057.4h6.6v12.6h-6.6zM1598.1 3047.2h6.6v22.8h-6.6zM1604.4 3058h6.6v12h-6.6zM1610.6 3036.2h6.6v33.8h-6.6zM1635.6 3020.2h6.6v49.8h-6.6zM1641.8 3054.4h6.6v15.6h-6.6zM1648.1 3055.9h6.6v14.1h-6.6zM1654.3 3055.9h6.6v14.1h-6.6zM1660.5 3053.2h6.6v16.8h-6.6zM1666.8 3059.3h6.6v10.7h-6.6zM1673 3059h6.6v11h-6.6zM1679.3 3054.3h6.6v15.7h-6.6zM1685.5 3057.8h6.6v12.2h-6.6zM1691.8 3057.9h6.6v12.1h-6.6zM1698 3049.9h6.6v20.1h-6.6zM1704.2 3058.1h6.6v11.9h-6.6zM1710.5 3048.6h6.6v21.4h-6.6zM1716.7 3051.6h6.6v18.4h-6.6zM1723 3041.6h6.6v28.4h-6.6zM1729.2 3055.3h6.6v14.7h-6.6zM1735.5 3059.2h6.6v10.8h-6.6zM1741.7 3048.3h6.6v21.7h-6.6zM1747.9 3057.6h6.6v12.4h-6.6zM1754.2 3059h6.6v11h-6.6zM1760.4 3045h6.6v25h-6.6zM1766.7 3047.8h6.6v22.2h-6.6zM1772.9 3059.2h6.6v10.8h-6.6zM1779.2 3059.1h6.6v10.9h-6.6zM1785.4 3057.3h6.6v12.7h-6.6zM1791.6 3059.1h6.6v10.9h-6.6zM1797.9 3054.3h6.6v15.7h-6.6zM1804.1 3056.7h6.6v13.3h-6.6zM1810.4 3056.6h6.6v13.4h-6.6zM1816.6 3057.8h6.6v12.2h-6.6zM1822.9 3056.6h6.6v13.4h-6.6zM1829.1 3044.3h6.6v25.7h-6.6zM1835.3 3046.8h6.6v23.2h-6.6zM1841.6 3056.6h6.6v13.4h-6.6zM1847.8 3056.4h6.6v13.6h-6.6zM1854.1 3056.1h6.6v13.9h-6.6zM1860.3 3048.7h6.6v21.3h-6.6zM1866.6 3057h6.6v13h-6.6zM1872.8 3052.8h6.6v17.2h-6.6zM1879 3057.8h6.6v12.2h-6.6zM1885.3 3055.3h6.6v14.7h-6.6zM1891.5 3052.3h6.6v17.7h-6.6zM1897.8 2998h6.6v72h-6.6zM1910.3 2998h6.6v72h-6.6zM1916.5 3051.1h6.6v18.9h-6.6zM1922.7 3053.9h6.6v16.1h-6.6zM1929 3057.9h6.6v12.1h-6.6zM1935.2 3058.9h6.6v11.1h-6.6zM1941.5 3057.8h6.6v12.2h-6.6zM1947.7 3050.8h6.6v19.2h-6.6zM1954 3012.7h6.6v57.3h-6.6zM1972.7 3028.5h6.6v41.5h-6.6zM1978.9 3050h6.6v20h-6.6zM1985.2 3055.1h6.6v14.9h-6.6zM1991.4 3058.7h6.6v11.3h-6.6zM1997.7 3058.5h6.6v11.5h-6.6zM2003.9 3055.9h6.6v14.1h-6.6zM2010.1 3059.1h6.6v10.9h-6.6zM2016.4 3050.8h6.6v19.2h-6.6zM2022.6 3059.2h6.6v10.8h-6.6zM2028.9 3057.5h6.6v12.5h-6.6zM2035.1 3041.9h6.6v28.1h-6.6zM2041.4 3052.8h6.6v17.2h-6.6zM2047.6 3057.5h6.6v12.5h-6.6zM2053.8 3059.4h6.6v10.6h-6.6zM2060.1 3049.2h6.6v20.8h-6.6zM2066.3 3053.6h6.6v16.4h-6.6zM2072.6 3053.1h6.6v16.9h-6.6zM2078.8 3051.5h6.6v18.5h-6.6zM2085.1 3043h6.6v27h-6.6zM2091.3 3057.7h6.6v12.3h-6.6zM2097.5 3045.2h6.6v24.8h-6.6zM2103.8 3057.1h6.6v12.9h-6.6zM2110 3048.6h6.6v21.4h-6.6zM2116.3 3048.4h6.6v21.6h-6.6zM2122.5 3053.5h6.6v16.5h-6.6zM2128.7 3051.6h6.6v18.4h-6.6zM2135 3054.3h6.6v15.7h-6.6zM2141.2 3056.4h6.6v13.6h-6.6zM2147.5 3051h6.6v19h-6.6zM2153.7 3055.5h6.6v14.5h-6.6zM2160 3055.6h6.6v14.4h-6.6zM2166.2 3047.4h6.6v22.6h-6.6zM2172.4 3048.3h6.6v21.7h-6.6zM2178.7 2998h6.6v72h-6.6zM2197.4 2998h6.6v72h-6.6zM2203.7 3046.4h6.6v23.6h-6.6zM2209.9 3055.8h6.6v14.2h-6.6zM2216.1 3014.9h6.6v55.1h-6.6zM2234.9 3033.4h6.6v36.6h-6.6zM2241.1 3044h6.6v26h-6.6zM2247.4 3056.9h6.6v13.1h-6.6zM2253.6 3053h6.6v17h-6.6zM2259.8 3054.3h6.6v15.7h-6.6zM2266.1 3056.8h6.6v13.2h-6.6zM2272.3 3054.3h6.6v15.7h-6.6zM2278.6 3052.2h6.6v17.8h-6.6zM2284.8 3050.3h6.6v19.7h-6.6zM2291.1 3043.1h6.3v26.9h-6.3z" fill="#000"/>
<path d="M288.1 2711.2L288.6 2637.4L289.1 2547.9L289.6 2439.2L290.1 2307L290.6 2146L291.1 1992L291.6 1992L292.1 1992L292.6 2129.2L293.1 2275.5L293.6 2398.5L294.1 2501.9L294.6 2589L295.1 2662.4L295.6 2724.3zM684.3 2909.9L684.8 2887.3L685.3 2861.3L685.8 2831.5L686.3 2797.2L686.8 2757.9L687.3 2712.6L687.8 2660.5L688.3 2600.5L688.8 2545.9L689.3 2545.9L689.8 2545.9L690.3 2596L690.8 2651.7L691.3 2700.6L691.8 2743.6L692.3 2781.5L692.8 2814.8L693.3 2844.2L693.8 2870.1L694.3 2892.9zM921.5 2970.7L922 2954.2L922.5 2934.8L923 2912L923.5 2885.2L924 2853.7L924.5 2816.5L925 2781.9L925.5 2781.9L926 2781.9L926.5 2816.5L927 2853.7L927.5 2885.2L928 2912L928.5 2934.8L929 2954.2L929.5 2970.7zM1512.5 2891.9L1513 2874L1513.5 2854.2L1514 2832.3L1514.5 2808.1L1515 2781.3L1515.5 2751.8L1516 2719.1L1516.5 2682.9L1517 2642.8L1517.5 2598.4L1518 2549.2L1518.5 2505.9L1519 2505.9L1519.5 2505.9L1520 2552.2L1520.5 2604.6L1521 2651.4L1521.5 2693.4L1522 2731.1L1522.5 2764.8L1523 2795.1L1523.5 2822.3L1524 2846.8L1524.5 2868.7L1525 2888.4zM1619 3002.1L1619.5 2989.6L1620 2974.7L1620.5 2956.7L1621 2935.2L1621.5 2909.3L1622 2878.1L1622.5 2848.5L1623 2848.1L1623.5 2847.7L1624 2888.2L1624.5 2927.8L1625 2957.7L1625.5 2980.2L1626 2996.7L1630 2998.1L1630.5 2982L1631 2960.1L1631.5 2937.5L1632 2938.3L1632.5 2939L1633 2955.5L1633.5 2972.9L1634 2987.5L1634.5 2999.8zM2183.5 2983.2L2184 2965.9L2184.5 2944.8L2185 2919.3L2185.5 2888.3L2186 2850.4L2186.5 2814.1L2187 2813.3L2187.5 2812.2L2188 2853.1L2188.5 2893.9L2189 2925.5L2189.5 2949.5L2190 2967.4L2190.5 2980.1L2191 2988.3L2191.5 2992.4L2192 2992.7L2192.5 2989.2L2193 2981.7L2193.5 2969.8L2194 2952.8L2194.5 2929.9L2195 2899.5L2195.5 2869.1L2196 2870.4L2196.5 2871.5L2197 2898L2197.5 2925.8L2198 2948.9L2198.5 2968.1L2199 2984.1z" fill="#6f6f6f"/>
<path d="M279.5 3046.6L280 3043.6L280.5 3040.2L281 3036L281.5 3031.1L282 3025.2L282.5 3018L283 3009.4L283.5 2999.1L284 2986.5L284.5 2971.3L285 2953L285.5 2930.7L286 2903.7L286.5 2870.9L287 2831.1L287.5 2782.9L288 2724.3L288.5 2653.3L289 2567.2L289.5 2462.7L290 2335.6L290.5 2180.8L291 1992L291.5 1992L291.6 1992L292 1992L292.2 1992M676 3047.6L676.5 3045.3L677 3042.6L677.5 3039.5L678 3036L678.5 3032L679 3027.5L679.5 3022.2L680 3016.2L680.5 3009.3L681 3001.3L681.5 2992.2L682 2981.8L682.5 2969.8L683 2956L683.5 2940.2L684 2922.1L684.5 2901.2L685 2877.3L685.5 2849.9L686 2818.3L686.5 2782.1L687 2740.5L687.5 2692.7L688 2637.6L688.5 2574L688.7 2545.9L689 2545.9L689.3 2545.9L689.5 2545.9L689.9 2545.9M825.5 3047.8L826 3045.2L826.5 3042.2L827 3038.9L827.5 3035L828 3030.7L828.5 3025.7L829 3020L829.5 3013.6L830 3006.3L830.5 2997.9L831 2988.4L831.5 2977.6L831.9 2967.8L832 2967.8L832.5 2967.8L833 2967.8L833.1 2967.8M916.5 3046.2L917 3042.9L917.5 3039L918 3034.5L918.5 3029.2L919 3022.9L919.5 3015.5L920 3006.8L920.5 2996.7L921 2984.7L921.5 2970.7L922 2954.2L922.5 2934.8L923 2912L923.5 2885.2L924 2853.7L924.5 2816.5L924.9 2781.9M1046 3047.3L1046.5 3043.1L1047 3038.1L1047.5 3031.9L1048 3024.4L1048.5 3015.3L1049 3004.2L1049.5 2990.8L1049.9 2977.9M1500.5 3047.3L1501 3045.6L1501.5 3043.7L1502 3041.7L1502.5 3039.5L1503 3037L1503.5 3034.3L1504 3031.3L1504.5 3028L1505 3024.4L1505.5 3020.4L1506 3015.9L1506.5 3011L1507 3005.6L1507.5 2999.7L1508 2993.1L1508.5 2985.8L1509 2977.7L1509.5 2968.8L1510 2959L1510.5 2948.1L1511 2936.1L1511.5 2922.8L1512 2908.1L1512.5 2891.9L1513 2874L1513.5 2854.2L1514 2832.3L1514.5 2808.1L1515 2781.3L1515.5 2751.8L1516 2719.1L1516.5 2682.9L1517 2642.8L1517.5 2598.4L1518 2549.2L1518.4 2505.9L1518.5 2505.9L1519 2505.9L1519.5 2505.9L1519.6 2505.9M1615.5 3047.4L1616 3043.9L1616.5 3039.6L1617 3034.6L1617.5 3028.5L1618 3021.3L1618.5 3012.6L1619 3002.1L1619.5 2989.6L1620 2974.7L1620.5 2956.7L1621 2935.2L1621.5 2909.3L1622 2878.1L1622.4 2848.6L1622.5 2848.5L1623 2848.1L1623.5 2847.7L1623.6 2847.5M1628 3022.7L1628.5 3021.4L1629 3017.1L1629.5 3009.5L1630 2998.1L1630.5 2982L1631 2960.1L1631.4 2937.3M1898.5 3047.8L1899 3043.8L1899.5 3039L1900 3033.1L1900.5 3025.9L1901 3017.2L1901.5 3006.7L1902 2993.8L1902.4 2981.5L1902.5 2981.4L1903 2980.9L1903.5 2980.4L1903.6 2980.2M1907 3035.5L1907.5 3035.5L1908 3033.8L1908.5 3030.4L1909 3025L1909.5 3017.5L1910 3007.3L1910.5 2993.8L1910.9 2980.2M1956.5 3046L1957 3043.2L1957.5 3039.9L1958 3036.2L1958.5 3032L1959 3027.1L1959.5 3021.7L1960 3015.4L1960.5 3008.3L1961 3000.2L1961.5 2990.9L1961.9 2982.5L1962 2982.4L1962.5 2982.1L1963 2981.8L1963.1 2981.7M1967.5 3038.6L1968 3037.9L1968.5 3035.8L1969 3032.3L1969.5 3027.1L1970 3019.8L1970.4 3012.1M2179.5 3047.3L2180 3043.6L2180.5 3039.1L2181 3033.6L2181.5 3027L2182 3019L2182.5 3009.3L2183 2997.5L2183.5 2983.2L2184 2965.9L2184.5 2944.8L2185 2919.3L2185.5 2888.3L2186 2850.4L2186.4 2814.3L2186.5 2814.1L2187 2813.3L2187.5 2812.2L2187.6 2812M2192 2992.7L2192.5 2989.2L2193 2981.7L2193.5 2969.8L2194 2952.8L2194.5 2929.9L2195 2899.5L2195.4 2868.8M2220 3045.4L2220.5 3041.1L2221 3035.9L2221.5 3029.6L2222 3022L2222.5 3012.7L2223 3001.4L2223.5 2987.6L2224 2970.9L2224.4 2954.8L2224.5 2954.7L2225 2954.3L2225.5 2953.6L2225.6 2953.5M2229.5 3028.5L2230 3027.1L2230.5 3023.7L2231 3017.9L2231.5 3009.5L2231.9 3000.6" fill="none" stroke="#3a3a3a" stroke-width="7.2" stroke-linejoin="round" stroke-linecap="round"/>
<path d="M292.2 1992L292.5 2096.7L293 2248.3L293.5 2375.6L294 2482.6L294.5 2572.8L295 2648.7L295.5 2712.8L296 2766.8L296.5 2812.4L297 2850.8L297.5 2883.2L298 2910.5L298.5 2933.5L299 2953L299.5 2969.4L300 2983.2L300.5 2994.9L301 3004.8L301.5 3013.2L302 3020.3L302.5 3026.3L303 3031.4L303.5 3035.8L304 3039.5L304.5 3042.7L305 3045.4L305.5 3047.8M689.9 2545.9L690 2559L690.5 2619.2L691 2672L691.5 2718.5L692 2759.3L692.5 2795.3L693 2827L693.5 2854.9L694 2879.5L694.5 2901.2L695 2920.4L695.5 2937.2L696 2952.1L696.5 2965.2L697 2976.8L697.5 2987L698 2995.9L698.5 3003.9L699 3010.8L699.5 3017L700 3022.4L700.5 3027.2L701 3031.5L701.5 3035.2L702 3038.5L702.5 3041.4L703 3044L703.5 3046.3M833.1 2967.8L833.5 2980.2L834 2993.5L834.5 3004.7L835 3014.2L835.5 3022.2L836 3029L836.5 3034.8L837 3039.7L837.5 3043.8L838 3047.3M924.9 2781.9L925 2781.9L925.5 2781.9L926 2781.9L926.1 2781.9L926.5 2816.5L927 2853.7L927.5 2885.2L928 2912L928.5 2934.8L929 2954.2L929.5 2970.7L930 2984.7L930.5 2996.7L931 3006.8L931.5 3015.5L932 3022.9L932.5 3029.2L933 3034.5L933.5 3039.1L934 3042.9L934.5 3046.2M1049.9 2977.9L1050 2977.9L1050.5 2977.9L1051 2977.9L1051.1 2977.9L1051.5 2987.8L1052 2998.5L1052.5 3007.8L1053 3015.8L1053.5 3022.7L1054 3028.7L1054.5 3033.9L1055 3038.3L1055.5 3042.2L1056 3045.6M1519.6 2505.9L1520 2552.2L1520.5 2604.6L1521 2651.4L1521.5 2693.4L1522 2731.1L1522.5 2764.8L1523 2795.1L1523.5 2822.3L1524 2846.8L1524.5 2868.7L1525 2888.4L1525.5 2906.1L1526 2922.1L1526.5 2936.3L1527 2949.2L1527.5 2960.7L1528 2971.1L1528.5 2980.4L1529 2988.7L1529.5 2996.2L1530 3002.9L1530.5 3009L1531 3014.4L1531.5 3019.3L1532 3023.7L1532.5 3027.7L1533 3031.2L1533.5 3034.4L1534 3037.3L1534.5 3039.9L1535 3042.3L1535.5 3044.4L1536 3046.3L1536.5 3048M1623.6 2847.5L1624 2888.2L1624.5 2927.8L1625 2957.7L1625.5 2980.2L1626 2996.7L1626.5 3008.6L1627 3016.5L1627.5 3021.1L1628 3022.7M1631.4 2937.3L1631.5 2937.5L1632 2938.3L1632.5 2939L1632.6 2939.1L1633 2955.5L1633.5 2972.9L1634 2987.5L1634.5 2999.8L1635 3010.2L1635.5 3018.9L1636 3026.3L1636.5 3032.5L1637 3037.7L1637.5 3042.1L1638 3045.9M1903.6 2980.2L1904 2993.9L1904.5 3007.3L1905 3017.5L1905.5 3025.1L1906 3030.4L1906.5 3033.8L1907 3035.5M1910.9 2980.2L1911 2980.3L1911.5 2980.9L1912 2981.4L1912.1 2981.4L1912.5 2993.7L1913 3006.6L1913.5 3017.2L1914 3025.9L1914.5 3033L1915 3038.9L1915.5 3043.8L1916 3047.8M1963.1 2981.7L1963.5 2993.4L1964 3005.4L1964.5 3015.1L1965 3022.7L1965.5 3028.7L1966 3033.1L1966.5 3036.2L1967 3038L1967.5 3038.6M1970.4 3012.1L1970.5 3012.3L1971 3013.2L1971.5 3013.9L1971.6 3014L1972 3019.9L1972.5 3026.4L1973 3031.9L1973.5 3036.7L1974 3040.8L1974.5 3044.4L1975 3047.5M2187.6 2812L2188 2853.1L2188.5 2893.9L2189 2925.5L2189.5 2949.5L2190 2967.4L2190.5 2980.1L2191 2988.3L2191.5 2992.4L2192 2992.7M2195.4 2868.8L2195.5 2869.1L2196 2870.4L2196.5 2871.5L2196.6 2871.7L2197 2898L2197.5 2925.8L2198 2948.9L2198.5 2968.1L2199 2984.1L2199.5 2997.4L2200 3008.6L2200.5 3017.8L2201 3025.6L2201.5 3032.1L2202 3037.4L2202.5 3041.9L2203 3045.7M2225.6 2953.5L2226 2971.5L2226.5 2989.3L2227 3002.8L2227.5 3013L2228 3020.3L2228.5 3025.2L2229 3027.9L2229.5 3028.5M2231.9 3000.6L2232 3000.8L2232.5 3002L2233 3003L2233.1 3003.1L2233.5 3011.8L2234 3021L2234.5 3028.6L2235 3034.9L2235.5 3040.2L2236 3044.5" fill="none" stroke="#000" stroke-width="7.2" stroke-linejoin="round" stroke-linecap="round"/>
<path d="M1898 2985H1917V3046H1898zM1624 2943H1639V3019H1624zM2183 2880H2201V3012H2183zM2184 2850H2194V2885H2184zM1963 3003H1977V3034H1963zM2221 3003H2236V3029H2221zM919 2830H931V2975H919zM288 2316H299V2378H288zM685 2620H695V2900H685zM1514 2655H1525V2750H1514z" fill="#000"/>
<rect x="182" y="1789" width="2115" height="1282.5" fill="none" stroke="#111" stroke-width="7.5"/>
<path d="M166.5 1885.5H182M166.5 2083H182M166.5 2280.5H182M166.5 2478H182M166.5 2676H182M166.5 2874H182M166.5 3071.5H182M182 3071V3088M410 3071V3088M640.8 3071V3088M859 3071V3088M1094 3071V3088M1324 3071V3088M1549.6 3071V3088M1778.5 3071V3088M2007.5 3071V3088M2232 3071V3088" stroke="#111" stroke-width="7" fill="none"/>
</g>
<g filter="url(#bb)">
<text transform="translate(90.6 2606.5) rotate(-90) scale(1.0051 0.9405)" font-family='"Liberation Serif", "Times New Roman", Times, serif' font-weight="normal" font-size="100" fill="#0c0c0c">Intensity</text>
<text transform="translate(310.1 1970.2) rotate(-90) scale(0.7589 0.6347)" font-family='"Liberation Serif", "Times New Roman", Times, serif' font-weight="normal" font-size="100" fill="#0c0c0c" stroke="#fff" stroke-width="0.9">(110)</text>
<text transform="translate(705 2496.2) rotate(-90) scale(0.7452 0.6325)" font-family='"Liberation Serif", "Times New Roman", Times, serif' font-weight="normal" font-size="100" fill="#0c0c0c" stroke="#fff" stroke-width="0.9">(101)</text>
<text transform="translate(937.4 2704.8) rotate(-90) scale(0.7716 0.5950)" font-family='"Liberation Serif", "Times New Roman", Times, serif' font-weight="normal" font-size="100" fill="#0c0c0c" stroke="#fff" stroke-width="0.9">(111)</text>
<text transform="translate(840.9 2889.1) rotate(-90) scale(0.7356 0.6171)" font-family='"Liberation Serif", "Times New Roman", Times, serif' font-weight="normal" font-size="100" fill="#0c0c0c" stroke="#fff" stroke-width="0.9">(200)</text>
<text transform="translate(1068.9 2901.8) rotate(-90) scale(0.7452 0.6171)" font-family='"Liberation Serif", "Times New Roman", Times, serif' font-weight="normal" font-size="100" fill="#0c0c0c" stroke="#fff" stroke-width="0.9">(210)</text>
<text transform="translate(1529 2471.3) rotate(-90) scale(0.7785 0.5906)" font-family='"Liberation Serif", "Times New Roman", Times, serif' font-weight="normal" font-size="100" fill="#0c0c0c" stroke="#fff" stroke-width="0.9">(211)</text>
<text transform="translate(1640.4 2779.2) rotate(-90) scale(0.7500 0.5950)" font-family='"Liberation Serif", "Times New Roman", Times, serif' font-weight="normal" font-size="100" fill="#0c0c0c" stroke="#fff" stroke-width="0.9">(220)</text>
<text transform="translate(1913.1 2917.2) rotate(-90) scale(0.7452 0.6061)" font-family='"Liberation Serif", "Times New Roman", Times, serif' font-weight="normal" font-size="100" fill="#0c0c0c" stroke="#fff" stroke-width="0.9">(002)</text>
<text transform="translate(1990.1 2924.2) rotate(-90) scale(0.7452 0.6061)" font-family='"Liberation Serif", "Times New Roman", Times, serif' font-weight="normal" font-size="100" fill="#0c0c0c" stroke="#fff" stroke-width="0.9">(310)</text>
<text transform="translate(2198.2 2745.5) rotate(-90) scale(0.7298 0.6006)" font-family='"Liberation Serif", "Times New Roman", Times, serif' font-weight="normal" font-size="100" fill="#0c0c0c" stroke="#fff" stroke-width="0.9">(301)</text>
<text transform="translate(2255.6 2895.5) rotate(-90) scale(0.7476 0.6039)" font-family='"Liberation Serif", "Times New Roman", Times, serif' font-weight="normal" font-size="100" fill="#0c0c0c" stroke="#fff" stroke-width="0.9">(112)</text>
<text transform="translate(365 3176.5) scale(0.8383 0.9704)" font-family='"Liberation Serif", "Times New Roman", Times, serif' font-weight="normal" font-size="100" fill="#0c0c0c" stroke="#0c0c0c" stroke-width="0.8">30</text>
<text transform="translate(826.4 3176.5) scale(0.8138 0.9704)" font-family='"Liberation Serif", "Times New Roman", Times, serif' font-weight="normal" font-size="100" fill="#0c0c0c" stroke="#0c0c0c" stroke-width="0.8">40</text>
<text transform="translate(1281.8 3176.5) scale(0.8022 0.9704)" font-family='"Liberation Serif", "Times New Roman", Times, serif' font-weight="normal" font-size="100" fill="#0c0c0c" stroke="#0c0c0c" stroke-width="0.8">50</text>
<text transform="translate(1742.1 3176.5) scale(0.8098 0.9704)" font-family='"Liberation Serif", "Times New Roman", Times, serif' font-weight="normal" font-size="100" fill="#0c0c0c" stroke="#0c0c0c" stroke-width="0.8">60</text>
<text transform="translate(2190.4 3176.5) scale(0.8579 0.9704)" font-family='"Liberation Serif", "Times New Roman", Times, serif' font-weight="normal" font-size="100" fill="#0c0c0c" stroke="#0c0c0c" stroke-width="0.8">70</text>
<text transform="translate(1161.7 3292.5) scale(0.9553 1.0070)" font-family='"Liberation Serif", "Times New Roman", Times, serif' font-weight="normal" font-size="100" fill="#0c0c0c" stroke="#0c0c0c" stroke-width="0.6">2θ</text>
<text transform="translate(1767.3 1988) scale(0.6133 0.7405)" font-family='"Liberation Serif", "Times New Roman", Times, serif' font-weight="normal" font-size="100" fill="#0c0c0c" stroke="#0c0c0c" stroke-width="1.2">Rutile (TiO<tspan font-size="62" dy="26">2</tspan><tspan dy="-26">)</tspan></text>
<text transform="translate(1741.3 2086.3) scale(0.5935 0.7278)" font-family='"Liberation Serif", "Times New Roman", Times, serif' font-weight="normal" font-size="100" fill="#0c0c0c" stroke="#0c0c0c" stroke-width="1.2">JCPDS 21-1276</text>
</g>
<text x="1193" y="3457" text-anchor="middle" font-family='"Liberation Serif", "Times New Roman", Times, serif' font-size="88" fill="#000">(<tspan font-weight="bold">b</tspan>)</text>
</g>
</svg></body></html>
